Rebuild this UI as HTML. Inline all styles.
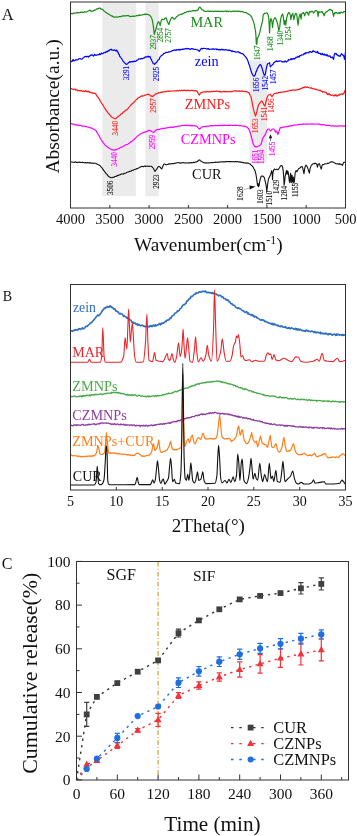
<!DOCTYPE html>
<html><head><meta charset="utf-8"><style>
html,body{margin:0;padding:0;background:#fff;width:357px;height:836px;overflow:hidden}
svg{display:block;will-change:transform}
text{font-family:"Liberation Serif",serif}
</style></head><body>
<svg width="357" height="836" viewBox="0 0 357 836">
<rect x="102.3" y="2.5" width="33.6" height="193.7" fill="#ebebeb"/>
<rect x="145.4" y="2.5" width="13.2" height="193.7" fill="#ebebeb"/>
<rect x="249.5" y="60.5" width="17.5" height="101.7" fill="#ebebeb"/>
<polyline points="70.8,13.8 71.4,13.4 72.1,13.8 72.7,13.7 73.3,13.2 74.0,13.3 74.6,13.1 75.2,13.2 75.9,13.2 76.5,12.6 77.1,12.4 77.8,12.9 78.4,12.6 79.0,12.5 79.7,12.7 80.3,12.1 81.0,12.3 81.6,12.5 82.3,12.1 82.9,12.5 83.6,12.5 84.2,11.8 84.9,11.7 85.5,12.0 86.2,12.2 86.8,11.8 87.5,11.5 88.2,11.0 88.8,10.8 89.5,10.2 90.2,10.4 91.0,11.4 91.6,11.2 92.2,11.2 92.8,11.1 93.4,10.6 94.0,10.4 94.6,10.1 95.2,10.1 95.8,9.8 96.4,9.3 97.0,8.8 97.6,9.0 98.2,8.4 98.8,8.3 99.4,8.1 100.0,8.0 100.7,8.8 101.3,9.1 101.9,9.2 102.6,9.4 103.3,10.0 103.9,10.9 104.6,11.4 105.3,11.8 105.9,12.6 106.5,12.6 107.2,13.4 107.8,13.7 108.4,13.8 109.0,14.4 109.7,15.0 110.3,15.1 110.9,15.7 111.5,15.8 112.1,16.3 112.7,16.2 113.3,16.7 113.9,17.2 114.5,17.1 115.1,17.0 115.7,16.8 116.3,17.1 116.9,17.1 117.5,17.0 118.1,16.8 118.7,16.8 119.3,16.7 120.0,16.6 120.6,16.7 121.2,16.4 121.9,16.2 122.5,16.2 123.2,15.8 123.8,16.0 124.5,15.6 125.1,15.9 125.8,16.0 126.4,15.7 127.1,15.6 127.8,15.6 128.6,15.7 129.3,16.2 130.0,16.3 130.6,16.6 131.2,16.5 131.9,16.3 132.5,16.5 133.1,16.0 133.8,16.1 134.4,16.4 135.0,16.0 135.6,16.0 136.2,15.8 136.9,15.6 137.5,15.6 138.1,15.8 138.8,15.0 139.4,15.4 140.0,15.1 140.6,15.2 141.2,15.2 141.8,15.0 142.4,14.9 143.0,14.6 143.6,14.5 144.2,14.4 144.8,14.0 145.4,14.6 146.0,14.3 146.7,14.4 147.4,14.2 148.2,14.6 148.9,14.8 149.6,15.2 150.2,15.8 150.9,16.8 151.7,18.2 152.4,20.7 153.4,26.6 154.3,34.4 154.8,32.5 155.8,29.5 156.8,25.6 157.8,22.6 158.7,21.7 159.7,24.1 160.2,25.6 160.7,22.6 161.4,20.3 162.2,19.2 162.9,19.5 163.6,19.7 164.3,19.2 165.1,18.2 166.1,17.7 167.1,20.7 168.1,23.1 169.0,24.6 169.5,22.2 170.5,19.7 171.5,17.7 172.5,17.3 173.5,18.7 174.4,19.2 175.2,18.6 175.9,17.7 176.7,16.6 177.4,16.3 178.0,15.5 178.7,15.0 179.3,14.8 180.2,14.6 181.0,14.3 181.7,14.3 182.3,13.9 183.0,13.6 183.7,13.3 184.3,12.6 185.0,12.5 185.6,12.6 186.2,12.3 186.8,11.7 187.4,11.5 188.0,11.4 188.6,11.8 189.2,11.3 189.8,11.1 190.4,11.3 191.0,11.3 191.7,11.0 192.3,10.7 192.9,10.7 193.6,10.9 194.2,10.6 194.8,10.6 195.5,10.9 196.1,10.6 196.7,10.3 197.4,10.3 198.0,10.1 198.8,8.2 199.7,7.1 200.4,7.6 201.1,8.7 201.8,9.6 202.4,9.8 203.0,10.1 203.7,11.0 204.3,11.1 204.9,11.0 205.5,11.3 206.1,11.4 206.8,11.5 207.4,11.0 208.0,11.0 208.7,11.1 209.3,11.5 209.9,11.1 210.6,11.4 211.2,11.4 211.8,11.3 212.4,11.1 213.1,11.6 213.7,11.5 214.3,11.3 215.0,11.1 215.6,11.3 216.2,11.4 216.8,11.2 217.4,11.4 218.0,11.2 218.6,11.4 219.2,11.0 219.8,11.2 220.4,11.6 221.0,11.6 221.6,11.2 222.2,11.6 222.8,11.2 223.4,11.6 224.0,11.5 224.6,11.2 225.2,11.1 225.8,11.0 226.4,11.6 227.0,11.0 227.6,11.5 228.2,11.6 228.8,11.3 229.4,11.1 230.0,11.3 230.6,11.6 231.2,11.6 231.9,11.4 232.5,11.3 233.1,11.2 233.8,11.2 234.4,11.1 235.0,11.4 235.6,11.3 236.2,11.1 236.9,11.1 237.5,11.5 238.1,11.2 238.8,11.4 239.4,11.3 240.0,11.4 240.6,11.7 241.2,11.8 241.9,11.3 242.5,11.6 243.1,11.8 243.8,12.5 244.4,12.5 245.0,12.5 245.7,12.6 246.4,12.7 247.0,13.3 247.7,13.7 248.4,13.8 249.0,14.5 249.7,14.5 250.3,15.5 250.9,15.9 251.8,17.4 252.6,19.2 253.4,21.4 254.2,24.3 254.8,27.4 255.5,31.0 255.9,35.2 256.3,43.6 256.8,44.5 257.4,37.7 258.4,36.9 259.0,35.0 259.7,32.7 260.4,30.0 261.0,26.8 261.8,23.9 262.6,20.9 263.1,15.6 264.0,13.8 264.8,13.4 265.6,13.3 266.5,12.8 267.4,13.2 268.2,15.1 268.9,19.6 269.6,33.0 270.1,21.8 271.0,18.4 271.9,21.8 272.6,27.4 273.2,20.7 274.3,18.4 275.4,17.9 276.0,19.1 276.6,20.7 277.7,24.0 278.8,30.8 279.7,27.4 280.5,19.6 281.6,15.6 282.7,14.0 283.5,18.4 284.2,24.6 285.0,20.7 285.8,25.2 286.6,18.4 287.8,14.0 288.9,12.3 290.0,14.0 290.9,19.6 291.7,15.1 292.8,13.4 293.9,19.6 294.5,16.2 295.6,13.4 296.7,14.0 297.6,21.8 298.1,25.2 298.8,18.4 299.5,15.4 300.1,14.0 301.1,19.1 301.6,13.8 302.5,13.3 303.4,12.4 304.0,13.9 304.7,15.8 305.4,13.1 306.1,12.4 306.7,12.1 307.4,12.4 308.0,14.3 308.7,15.1 309.4,11.7 310.1,11.7 310.8,12.1 311.4,11.9 312.1,11.3 312.8,11.6 313.4,13.1 314.1,12.3 314.8,11.3 315.5,10.7 316.1,10.6 316.8,10.8 317.5,11.7 318.1,16.4 318.8,11.7 319.5,12.3 320.1,12.2 320.8,12.2 321.5,11.7 322.2,11.7 322.8,12.9 323.5,13.8 324.2,15.8 324.9,13.1 325.6,12.9 326.2,11.9 326.9,11.7 327.6,11.3 328.2,10.3 328.9,10.4 329.6,9.4 330.2,9.4 330.9,9.7 331.6,10.5 332.3,10.4 333.0,13.7 333.6,16.4 334.3,13.1 335.0,13.3 335.6,12.4 336.3,12.6 336.9,12.9 337.6,13.5 338.3,13.4 339.0,12.4 339.6,13.3 340.3,13.1 341.0,12.0 341.7,12.4 342.4,12.8 343.0,12.7 343.7,11.5 344.4,11.7 345.4,11.7" fill="none" stroke="#1a8c1a" stroke-width="1.2" stroke-linejoin="round"/>
<polyline points="70.8,61.0 71.4,61.7 72.1,61.5 72.7,59.8 73.3,59.7 74.0,60.9 74.6,60.6 75.2,60.3 75.9,59.6 76.5,59.9 77.1,59.8 77.8,59.6 78.4,59.3 79.0,58.5 79.7,58.8 80.3,58.6 81.0,59.0 81.6,59.3 82.3,59.0 82.9,58.0 83.6,57.7 84.2,57.1 84.9,56.5 85.5,56.3 86.2,56.9 86.8,56.8 87.4,56.3 88.0,56.3 88.6,57.0 89.2,56.2 89.8,56.2 90.4,55.4 91.0,54.9 91.6,55.3 92.2,54.8 92.8,55.4 93.4,56.1 94.0,55.4 94.6,54.4 95.2,54.8 95.8,55.4 96.4,55.1 97.0,54.9 97.6,55.0 98.2,54.7 98.9,54.6 99.5,53.7 100.1,54.7 100.7,54.5 101.3,53.0 101.9,53.4 102.5,53.7 103.2,53.4 103.8,52.7 104.5,52.6 105.1,52.2 105.7,52.7 106.4,51.7 107.0,51.4 107.6,51.7 108.2,50.4 108.8,51.0 109.4,50.6 110.0,49.5 110.6,49.4 111.2,49.2 111.8,50.1 112.5,50.2 113.1,50.2 113.7,50.4 114.3,49.9 115.0,50.1 115.6,50.8 116.2,50.4 116.8,50.0 117.4,52.0 118.0,51.8 118.6,54.1 119.2,54.3 119.8,56.6 120.4,56.8 121.1,58.0 121.8,58.9 122.4,60.0 123.1,61.1 123.8,61.8 124.4,62.7 125.0,63.3 125.7,63.8 126.3,64.4 127.0,64.1 127.7,63.7 128.4,62.7 129.1,62.5 129.7,61.6 130.4,62.1 131.0,61.8 131.7,61.5 132.4,61.9 133.1,61.2 133.7,61.7 134.4,61.1 135.1,61.5 135.8,61.5 136.4,60.6 137.1,60.0 137.7,60.0 138.4,59.3 139.0,58.7 139.7,59.0 140.3,59.2 140.9,58.5 141.6,58.3 142.2,58.9 142.9,58.3 143.5,58.2 144.2,58.2 144.8,57.2 145.5,57.1 146.1,56.7 146.8,56.8 147.5,56.9 148.1,56.2 148.8,57.0 149.4,56.5 150.0,56.5 150.7,58.5 151.3,59.3 151.9,61.0 152.5,61.8 153.2,63.5 153.8,63.7 154.4,64.4 155.2,63.5 156.1,62.7 156.7,62.2 157.3,61.2 158.0,60.1 158.6,59.8 159.2,59.4 159.8,57.5 160.5,56.3 161.1,56.0 161.8,55.2 162.5,54.9 163.1,54.5 163.8,53.4 164.5,53.4 165.2,52.9 165.9,52.3 166.6,52.4 167.3,52.5 168.0,52.3 168.7,51.8 169.3,52.0 169.9,51.7 170.5,51.6 171.1,51.3 171.7,50.9 172.4,50.5 173.0,50.7 173.6,50.3 174.2,49.9 174.8,50.1 175.4,50.1 176.0,50.4 176.7,49.6 177.3,50.0 178.0,49.7 178.6,49.8 179.2,49.3 179.9,50.1 180.5,49.4 181.2,49.7 181.8,49.4 182.4,49.0 183.1,49.5 183.7,49.0 184.4,48.8 185.0,49.2 185.7,48.6 186.4,48.6 187.0,48.4 187.7,48.9 188.4,48.7 189.0,48.7 189.6,49.2 190.2,49.2 190.8,49.3 191.4,48.6 192.0,48.8 192.6,48.7 193.2,49.1 193.8,49.2 194.4,49.5 195.0,49.5 195.6,49.2 196.2,49.5 196.8,49.7 197.4,50.1 198.1,50.1 198.7,50.7 199.3,51.4 200.2,50.0 201.0,48.7 201.6,48.3 202.3,48.9 202.9,48.5 203.5,48.3 204.2,48.4 204.8,48.5 205.4,48.5 206.0,48.8 206.7,48.8 207.3,48.7 207.9,49.0 208.6,48.6 209.2,49.4 209.8,49.5 210.4,49.3 211.1,49.0 211.7,49.1 212.3,49.2 213.0,48.7 213.6,49.2 214.2,49.1 214.8,49.3 215.4,49.0 216.1,48.9 216.7,49.7 217.3,49.2 217.9,49.4 218.5,49.9 219.1,49.6 219.7,49.3 220.3,50.0 221.0,49.5 221.6,49.2 222.2,49.9 222.8,49.3 223.4,49.6 224.0,50.2 224.6,50.0 225.3,49.4 225.9,49.9 226.5,49.9 227.1,50.1 227.7,50.2 228.3,50.0 228.9,50.5 229.5,50.1 230.1,50.4 230.7,50.7 231.4,51.4 232.0,50.7 232.6,51.5 233.2,51.1 233.8,51.6 234.4,51.6 235.0,51.8 235.6,51.9 236.2,52.2 236.9,52.0 237.5,51.8 238.1,51.9 238.8,51.9 239.4,52.8 240.0,52.6 240.7,53.0 241.4,53.6 242.1,53.7 242.8,53.5 243.5,54.7 244.2,55.1 244.9,56.1 245.6,56.9 246.2,57.7 246.9,58.7 247.6,60.2 248.2,61.7 248.8,64.0 249.5,65.5 250.1,67.7 250.7,69.6 251.3,71.5 252.0,73.7 252.6,74.5 253.4,75.9 254.3,76.1 255.2,74.9 256.0,71.9 256.6,70.9 257.2,69.0 257.9,67.7 258.5,66.9 259.4,65.3 260.2,64.4 261.0,65.3 261.9,67.7 262.8,70.7 263.6,73.6 264.2,74.9 264.9,75.3 265.5,73.4 266.1,69.4 267.0,65.8 267.8,63.5 268.6,63.2 269.5,62.7 270.3,66.9 271.1,65.9 272.0,65.2 272.7,64.3 273.3,64.1 274.0,62.5 274.6,62.1 275.3,61.8 276.0,61.1 276.7,60.9 277.3,61.6 278.0,61.5 278.7,61.0 279.3,61.2 279.9,60.8 280.6,61.0 281.2,61.1 281.8,61.7 282.4,61.9 283.1,61.7 283.7,61.8 284.4,61.8 285.1,60.9 285.7,61.5 286.4,62.0 287.1,61.0 287.8,61.2 288.5,59.6 289.1,60.0 289.8,60.0 290.5,59.3 291.1,58.7 291.7,59.6 292.4,58.7 293.0,58.9 293.6,58.3 294.2,59.2 294.8,58.6 295.5,58.1 296.1,57.2 296.7,57.6 297.3,57.3 298.0,56.2 298.6,56.9 299.2,57.1 299.9,55.5 300.5,55.7 301.1,55.3 301.8,54.8 302.4,55.0 303.0,55.0 303.6,54.2 304.3,53.5 304.9,54.1 305.5,52.7 306.2,53.2 306.8,52.6 307.4,52.7 308.1,52.8 308.7,52.8 309.3,51.5 310.0,52.1 310.6,51.6 311.2,52.0 311.9,52.4 312.5,51.7 313.1,50.6 313.8,51.3 314.4,51.4 315.1,51.8 315.7,52.3 316.4,52.0 317.0,52.6 317.7,51.4 318.3,53.4 319.0,53.3 319.6,53.4 320.3,53.4 320.9,54.3 321.6,54.5 322.2,53.3 322.9,54.7 323.5,54.8 324.2,54.0 324.8,55.2 325.5,55.1 326.1,54.5 326.8,55.8 327.4,54.9 328.1,56.2 328.7,56.0 329.4,56.1 330.1,55.9 330.8,57.5 331.5,57.6 332.2,57.0 332.9,58.2 333.6,59.4 334.2,55.0 334.9,53.3 335.5,53.8 336.2,53.4 336.9,54.9 337.6,54.9 338.2,56.0 338.9,55.7 339.6,56.0 340.2,56.4 340.9,54.6 341.5,53.7 342.1,54.3 342.7,55.1 343.4,55.1 344.0,57.0 344.6,59.3 345.5,51.8" fill="none" stroke="#0000ff" stroke-width="1.2" stroke-linejoin="round"/>
<polyline points="70.8,88.7 71.4,88.5 72.1,89.0 72.7,89.0 73.3,89.4 74.0,89.6 74.6,89.1 75.2,89.2 75.9,90.3 76.5,89.8 77.1,89.9 77.8,90.9 78.4,90.4 79.0,90.5 79.7,91.0 80.3,90.6 81.0,90.9 81.6,90.4 82.3,91.0 82.9,91.4 83.6,91.0 84.2,91.3 84.9,91.3 85.5,90.7 86.2,91.6 86.8,91.4 87.4,91.6 88.0,91.4 88.7,91.2 89.3,92.4 89.9,92.1 90.5,92.5 91.2,92.9 91.8,92.6 92.5,93.0 93.2,93.4 93.8,92.9 94.5,93.5 95.2,93.4 95.9,93.9 96.6,95.4 97.2,96.5 97.9,96.8 98.6,98.4 99.3,99.0 99.9,100.1 100.6,101.8 101.2,102.4 101.9,103.5 102.6,104.7 103.3,105.6 104.0,107.0 104.7,108.0 105.4,109.1 106.1,110.2 106.8,111.2 107.5,112.1 108.1,113.1 108.8,113.8 109.5,114.4 110.2,115.5 110.9,116.2 111.5,117.0 112.2,117.4 112.9,117.8 113.7,118.1 114.5,118.6 115.1,118.8 115.7,118.6 116.3,118.2 116.9,117.5 117.5,117.2 118.1,116.3 118.7,116.1 119.3,115.9 120.0,115.2 120.6,114.5 121.2,113.8 121.9,113.8 122.5,113.3 123.2,112.1 123.8,111.9 124.4,111.6 125.0,110.9 125.6,110.3 126.2,109.9 126.8,109.8 127.4,109.3 128.0,108.5 128.7,107.4 129.3,106.9 130.0,106.0 130.6,105.0 131.3,104.8 131.9,103.9 132.6,103.6 133.2,103.1 133.8,102.2 134.5,101.9 135.1,101.0 135.7,100.3 136.3,99.5 137.0,99.3 137.6,98.3 138.2,97.9 138.8,97.5 139.5,97.2 140.1,96.8 140.7,96.3 141.4,95.9 142.0,96.3 142.6,95.7 143.3,96.0 143.9,95.7 144.6,95.2 145.2,95.1 145.9,94.9 146.5,94.7 147.2,94.5 147.8,94.3 148.5,94.2 149.1,94.5 149.8,95.0 150.4,95.8 151.0,95.9 151.8,96.2 152.7,96.4 153.3,96.1 154.0,95.6 154.7,94.5 155.3,94.2 155.9,93.8 156.6,94.0 157.2,93.5 157.8,93.3 158.4,92.7 159.1,92.8 159.7,92.8 160.3,92.6 160.9,92.1 161.5,92.4 162.1,92.3 162.7,91.8 163.3,92.0 164.0,91.8 164.6,91.8 165.2,91.5 165.8,91.7 166.4,91.6 167.0,91.4 167.6,91.0 168.2,91.0 168.8,91.4 169.4,91.5 170.0,91.0 170.6,91.1 171.2,91.2 171.8,91.0 172.4,91.0 173.0,90.9 173.6,90.9 174.2,91.0 174.8,90.8 175.4,90.9 176.0,90.8 176.7,91.0 177.3,90.4 178.0,90.8 178.6,90.9 179.2,90.5 179.9,90.4 180.5,90.8 181.2,90.3 181.8,90.3 182.4,90.4 183.1,90.6 183.7,90.1 184.4,90.3 185.0,90.4 185.6,90.3 186.2,90.6 186.9,90.4 187.5,90.7 188.1,90.2 188.7,90.3 189.3,90.6 190.0,90.7 190.6,90.5 191.2,90.3 191.8,90.3 192.5,90.6 193.1,90.4 193.7,90.9 194.3,90.9 194.9,90.5 195.6,90.6 196.2,91.1 196.8,90.9 197.4,91.7 198.1,93.2 198.7,94.3 199.3,95.1 200.2,93.6 201.0,92.6 201.6,92.3 202.3,92.5 202.9,92.1 203.5,92.0 204.2,91.9 204.8,91.9 205.4,91.8 206.0,92.1 206.7,91.5 207.3,91.3 207.9,91.9 208.6,91.8 209.2,91.8 209.8,91.4 210.4,91.8 211.1,91.7 211.7,91.2 212.3,91.6 213.0,91.6 213.6,91.4 214.2,91.5 214.8,91.4 215.4,91.3 216.0,91.3 216.6,91.2 217.2,91.1 217.8,91.5 218.4,91.3 219.0,91.7 219.6,91.2 220.2,91.8 220.8,91.7 221.4,91.8 222.0,91.8 222.6,91.8 223.2,91.6 223.8,91.3 224.4,91.8 225.0,91.4 225.6,91.5 226.2,91.8 226.8,91.7 227.4,91.6 228.0,92.0 228.6,91.8 229.2,91.6 229.8,91.5 230.4,91.7 231.1,91.9 231.7,91.5 232.4,91.6 233.0,91.1 233.7,90.8 234.3,91.0 235.0,90.9 235.6,91.1 236.2,90.7 236.8,91.1 237.4,91.2 238.0,91.2 238.6,91.2 239.2,90.7 239.8,91.2 240.4,91.4 241.0,90.9 241.6,91.1 242.2,91.1 242.8,91.4 243.4,91.4 244.0,91.4 244.7,91.5 245.3,91.8 245.9,91.4 246.5,91.6 247.2,91.9 247.8,92.1 248.4,92.6 249.1,92.8 249.7,94.3 250.3,95.5 251.0,96.8 251.8,100.3 252.6,105.2 253.4,109.2 254.3,112.7 255.5,116.1 256.1,114.4 256.8,111.9 257.6,108.1 258.5,105.2 259.4,103.6 260.2,102.6 261.0,101.7 261.9,101.0 262.8,102.4 263.6,104.3 264.2,105.3 264.9,106.0 265.5,103.8 266.1,101.0 267.0,97.8 267.8,95.9 268.4,95.0 269.1,94.7 269.7,94.5 270.3,94.2 271.1,95.4 272.0,96.8 272.9,95.3 273.7,94.2 274.3,93.6 274.9,93.5 275.6,93.4 276.2,93.3 276.8,92.9 277.4,93.1 278.1,92.8 278.7,92.6 279.3,92.4 279.9,92.3 280.5,92.3 281.1,92.4 281.7,92.1 282.4,92.2 283.0,92.0 283.6,91.8 284.2,91.9 284.8,91.9 285.4,91.7 286.1,91.3 286.7,91.3 287.4,91.1 288.0,91.2 288.7,91.0 289.3,90.4 290.0,90.4 290.6,90.6 291.3,90.4 291.9,90.0 292.6,90.1 293.2,89.8 293.9,90.2 294.5,90.1 295.2,90.2 295.8,90.1 296.5,89.9 297.1,89.9 297.8,89.7 298.4,89.6 299.0,89.2 299.7,89.3 300.3,88.7 300.9,88.5 301.6,88.7 302.2,87.9 302.8,87.6 303.5,87.4 304.1,87.7 304.7,87.0 305.4,86.8 306.0,87.1 306.6,87.4 307.2,86.9 307.9,87.5 308.5,87.5 309.1,87.7 309.8,88.0 310.4,87.9 311.0,88.2 311.6,87.9 312.2,88.6 312.9,88.5 313.5,88.7 314.1,89.0 314.8,88.8 315.4,89.4 316.1,89.7 316.7,89.3 317.4,89.7 318.0,90.0 318.7,90.4 319.3,90.2 320.0,90.4 320.6,90.4 321.3,91.3 321.9,91.3 322.5,92.0 323.1,91.5 323.7,91.7 324.3,92.1 324.9,92.2 325.5,92.6 326.1,92.2 326.7,93.3 327.3,94.5 327.9,93.7 328.5,94.5 329.1,93.6 329.7,94.8 330.3,94.6 330.9,95.3 331.6,95.3 332.2,95.1 332.9,95.2 333.5,95.6 334.1,96.2 334.8,94.8 335.4,95.5 336.0,94.7 336.6,95.9 337.3,96.1 337.9,95.2 338.5,94.9 339.1,95.3 339.8,94.1 340.4,94.6 341.1,94.0 341.8,93.8 342.4,94.4 343.1,93.7 343.8,93.8 344.6,91.3 345.3,90.0" fill="none" stroke="#ff1a1a" stroke-width="1.2" stroke-linejoin="round"/>
<polyline points="70.8,123.7 71.4,123.7 72.1,123.8 72.7,124.1 73.3,124.1 74.0,124.2 74.6,124.5 75.2,124.9 75.9,124.9 76.5,125.1 77.1,124.9 77.8,125.2 78.4,125.3 79.0,125.3 79.7,125.4 80.3,125.4 81.0,125.6 81.6,126.0 82.3,126.1 82.9,126.2 83.6,126.3 84.2,126.1 84.9,126.2 85.5,126.5 86.2,126.7 86.8,126.7 87.4,127.0 88.0,127.2 88.6,127.0 89.2,127.4 89.8,127.6 90.5,127.8 91.1,127.8 91.7,128.2 92.3,128.3 92.9,128.9 93.5,129.0 94.3,129.6 95.2,130.0 95.9,130.7 96.6,131.5 97.2,132.9 97.9,133.9 98.6,135.0 99.3,136.3 99.9,137.6 100.6,138.6 101.2,139.8 101.9,140.9 102.6,142.0 103.3,142.8 104.0,143.6 104.7,144.5 105.4,145.5 106.1,146.0 106.7,146.3 107.3,146.7 107.9,147.5 108.5,147.7 109.1,148.2 109.7,148.5 110.3,148.8 110.9,149.0 111.5,149.7 112.2,149.6 112.8,149.9 113.4,150.0 114.0,150.2 114.7,150.2 115.3,149.9 116.0,149.7 116.7,149.6 117.4,149.0 118.0,148.8 118.7,148.5 119.3,148.4 120.0,147.7 120.6,147.4 121.2,147.2 121.9,147.1 122.5,146.7 123.2,146.2 123.8,146.0 124.4,145.6 125.0,145.2 125.7,145.0 126.3,144.5 126.9,144.5 127.5,144.3 128.1,144.0 128.8,143.5 129.4,143.2 130.0,142.6 130.6,141.9 131.3,141.6 131.9,141.4 132.6,140.7 133.2,140.0 133.8,139.7 134.5,139.0 135.1,138.4 135.7,138.0 136.3,137.2 137.0,136.6 137.6,136.1 138.2,135.4 138.8,135.0 139.5,134.8 140.1,134.2 140.7,133.8 141.4,133.3 142.0,133.0 142.6,132.8 143.3,132.8 143.9,132.4 144.6,132.1 145.2,132.0 145.8,131.6 146.4,131.8 147.1,131.2 147.7,130.9 148.3,130.6 148.9,130.4 149.6,130.4 150.2,130.5 151.1,131.1 151.9,131.7 152.8,132.0 153.6,132.5 154.2,131.9 154.8,131.4 155.5,130.4 156.1,130.0 156.7,130.0 157.3,129.4 157.9,129.5 158.5,129.5 159.1,129.2 159.7,129.4 160.3,129.0 160.9,128.9 161.5,128.6 162.1,128.6 162.7,128.3 163.3,128.4 164.0,128.2 164.6,128.5 165.2,128.3 165.8,128.1 166.4,127.8 167.0,127.9 167.6,127.7 168.2,127.6 168.8,127.5 169.4,127.4 170.0,127.6 170.6,127.2 171.2,127.1 171.8,127.4 172.4,127.2 173.0,127.3 173.6,126.9 174.2,127.1 174.8,126.9 175.4,126.7 176.0,126.7 176.7,126.6 177.3,126.4 178.0,126.1 178.6,126.0 179.2,126.2 179.9,126.1 180.5,126.0 181.2,125.6 181.8,125.6 182.4,125.6 183.1,125.5 183.7,125.5 184.4,125.3 185.0,125.3 185.6,125.4 186.2,125.4 186.9,125.2 187.5,125.5 188.1,125.6 188.7,125.2 189.3,125.6 190.0,125.7 190.6,125.6 191.2,125.3 191.8,125.8 192.5,125.4 193.1,125.9 193.7,125.8 194.3,125.6 194.9,125.7 195.6,126.1 196.2,126.1 196.8,126.2 197.4,126.8 198.1,127.9 198.7,128.4 199.3,129.0 199.9,128.5 200.6,128.3 201.2,127.2 201.8,127.0 202.4,127.0 203.0,126.5 203.7,126.8 204.3,126.7 204.9,126.6 205.5,126.3 206.1,126.4 206.8,126.0 207.4,126.2 208.0,126.0 208.6,126.2 209.3,126.1 209.9,125.9 210.5,125.9 211.1,125.6 211.7,125.6 212.4,125.8 213.0,125.7 213.6,125.7 214.2,125.9 214.8,125.7 215.4,125.4 216.0,125.5 216.6,125.7 217.2,125.6 217.8,125.3 218.4,125.7 219.0,125.7 219.6,125.3 220.2,125.5 220.8,125.4 221.4,125.6 222.0,125.3 222.6,125.3 223.2,125.4 223.8,125.6 224.4,125.2 225.0,125.2 225.6,125.4 226.2,125.5 226.8,125.3 227.4,125.3 228.0,125.5 228.6,125.4 229.2,125.1 229.8,125.5 230.4,125.3 231.1,125.2 231.7,125.2 232.4,125.5 233.0,125.3 233.7,125.5 234.3,125.2 235.0,125.4 235.6,125.6 236.3,125.3 236.9,125.3 237.5,125.5 238.2,125.5 238.8,125.6 239.4,125.8 240.1,125.8 240.7,125.5 241.3,125.7 241.9,125.9 242.6,126.0 243.2,126.2 243.8,126.2 244.5,126.1 245.1,126.4 245.8,126.5 246.4,127.1 247.1,127.2 247.7,127.9 248.4,128.4 249.1,129.7 249.7,131.1 250.3,133.1 251.0,135.1 251.8,138.5 252.6,141.8 253.4,144.3 254.3,146.0 255.2,146.8 256.0,146.9 256.6,146.8 257.2,146.8 257.9,146.2 258.5,146.0 259.4,145.9 260.2,145.2 261.0,144.3 261.9,141.8 262.2,139.6 263.0,137.8 263.7,136.8 264.5,135.7 265.4,133.9 266.2,132.3 267.0,130.4 267.8,129.0 269.0,129.0 269.6,129.9 270.3,131.0 271.1,130.4 271.8,129.5 272.6,129.0 273.4,129.0 274.0,129.2 274.6,130.1 275.7,132.3 276.8,131.2 277.9,134.6 279.0,131.2 280.2,127.8 280.9,127.4 281.7,127.6 282.4,127.3 283.1,127.0 283.8,127.2 284.4,126.9 285.1,126.8 285.8,126.7 286.5,126.5 287.1,126.6 287.8,126.2 288.4,126.3 289.1,126.2 289.8,126.3 290.5,125.8 291.1,125.9 291.8,125.6 292.5,125.6 293.1,125.4 293.8,125.0 294.4,124.9 295.0,125.0 295.6,125.1 296.2,125.0 296.9,124.9 297.5,124.8 298.1,124.8 298.8,124.3 299.4,124.4 300.0,124.3 300.6,124.3 301.2,124.4 301.9,124.3 302.5,124.3 303.1,123.9 303.8,124.1 304.4,124.1 305.0,124.0 305.6,124.1 306.2,124.1 306.9,124.2 307.5,123.9 308.1,124.2 308.8,124.0 309.4,124.0 310.0,124.2 310.6,124.1 311.2,123.9 311.9,123.9 312.5,123.9 313.1,124.1 313.8,124.2 314.4,124.2 315.0,124.0 315.6,124.0 316.2,124.0 316.9,124.2 317.5,124.0 318.1,124.1 318.8,124.0 319.4,124.1 320.0,124.4 320.6,124.6 321.2,124.6 321.9,124.6 322.5,124.9 323.1,124.8 323.8,124.7 324.4,124.7 325.0,125.0 325.6,125.3 326.2,125.4 326.9,125.4 327.5,125.3 328.1,125.3 328.8,125.3 329.4,125.4 330.0,125.5 330.6,125.9 331.2,126.0 331.9,126.0 332.5,125.7 333.1,125.8 333.8,125.9 334.4,126.2 335.0,126.0 335.6,125.8 336.2,126.1 336.8,126.1 337.4,126.0 338.0,126.2 338.6,125.9 339.2,126.0 339.8,125.8 340.5,125.8 341.1,125.8 341.7,125.9 342.3,125.8 342.9,125.8 343.5,126.2 344.1,125.9 344.7,126.2 345.3,126.0" fill="none" stroke="#ff00ff" stroke-width="1.2" stroke-linejoin="round"/>
<polyline points="70.8,161.9 71.4,162.0 72.1,162.1 72.7,162.2 73.3,162.3 74.0,162.2 74.6,162.4 75.2,161.8 75.9,162.1 76.5,162.5 77.1,162.3 77.8,162.5 78.4,162.3 79.0,162.1 79.7,162.4 80.3,162.3 81.0,162.5 81.6,162.5 82.3,162.2 82.9,162.4 83.6,162.5 84.2,162.9 84.9,162.8 85.5,162.5 86.2,162.9 86.8,162.8 87.4,162.6 88.0,162.9 88.6,162.7 89.2,162.6 89.8,163.2 90.4,162.8 91.0,162.8 91.6,163.3 92.2,163.3 92.8,163.0 93.4,163.4 94.0,163.2 94.6,163.3 95.2,163.3 95.8,163.2 96.4,163.9 97.0,164.0 97.6,164.4 98.2,164.8 98.8,164.8 99.4,165.3 100.0,165.7 100.7,166.3 101.3,167.1 102.0,167.8 102.6,168.9 103.2,169.6 103.8,170.6 104.4,171.1 105.0,172.2 105.7,173.1 106.3,173.7 106.9,174.4 107.6,175.2 108.2,176.1 108.9,176.5 109.5,177.0 110.1,177.2 110.8,177.6 111.4,177.7 112.0,177.8 112.7,177.2 113.3,177.3 113.9,177.4 114.6,176.5 115.2,176.5 115.9,176.4 116.6,176.2 117.3,175.4 118.0,175.6 118.7,175.2 119.4,174.9 120.1,174.8 120.8,174.3 121.4,174.1 122.1,174.0 122.8,174.0 123.4,174.1 124.0,173.4 124.7,173.5 125.3,173.3 125.9,173.1 126.5,172.5 127.2,172.3 127.8,172.1 128.4,171.9 129.1,171.8 129.7,171.2 130.3,171.3 130.9,171.1 131.6,170.9 132.2,170.2 132.8,170.2 133.5,170.2 134.1,169.5 134.8,169.4 135.4,169.3 136.1,169.2 136.7,168.6 137.3,168.7 138.0,168.2 138.6,168.0 139.2,167.6 139.9,167.3 140.5,166.9 141.1,166.6 141.8,166.4 142.4,166.6 143.0,166.4 143.6,166.7 144.2,166.1 144.9,166.0 145.5,166.5 146.1,166.3 146.8,166.2 147.4,166.0 148.0,166.2 148.6,166.3 149.3,166.4 149.9,166.3 150.5,166.3 151.2,166.2 151.8,166.6 152.7,167.5 153.5,168.5 154.2,169.9 155.0,171.4 156.0,170.0 156.8,168.9 158.0,167.0 158.7,166.6 159.3,166.4 160.5,167.5 161.2,168.6 161.8,168.9 163.0,166.0 163.7,164.4 164.4,163.9 165.3,164.5 165.9,164.6 166.5,164.7 167.2,164.5 167.8,164.5 168.4,164.0 169.0,164.1 169.6,163.8 170.2,164.1 170.9,163.7 171.5,163.7 172.1,163.6 172.7,163.8 173.3,163.6 173.9,163.6 174.5,163.2 175.1,163.1 175.8,163.2 176.4,163.0 177.0,162.8 177.6,162.8 178.2,162.6 178.8,162.8 179.4,162.7 180.1,163.1 180.7,163.1 181.4,162.9 182.0,162.8 182.6,162.7 183.3,162.6 183.9,162.7 184.6,163.0 185.2,163.0 185.8,162.7 186.5,163.0 187.1,163.0 187.8,162.9 188.4,162.8 189.0,162.9 189.6,162.9 190.2,162.7 190.8,162.9 191.4,162.6 192.0,162.6 192.6,162.7 193.2,162.6 193.8,162.3 194.4,162.6 195.0,162.3 195.6,162.2 196.2,161.7 196.8,161.9 197.4,161.5 198.1,160.7 198.7,160.3 199.3,159.9 199.9,160.1 200.6,160.8 201.2,161.3 201.8,161.6 202.5,162.1 203.2,162.2 203.8,162.6 204.5,162.9 205.2,162.8 205.8,163.0 206.4,162.7 207.0,163.0 207.6,163.0 208.2,162.8 208.8,163.0 209.4,163.0 210.0,162.7 210.6,162.6 211.2,162.4 211.8,162.7 212.4,162.7 213.0,162.4 213.6,162.5 214.2,162.5 214.8,162.4 215.4,162.1 216.0,162.4 216.6,162.2 217.2,162.2 217.8,162.0 218.4,162.1 219.0,162.2 219.6,162.1 220.2,162.1 220.8,161.7 221.4,161.7 222.0,161.9 222.6,161.9 223.2,162.0 223.9,161.7 224.5,162.0 225.1,161.9 225.7,161.5 226.3,161.8 227.0,161.6 227.6,161.5 228.2,161.5 228.8,161.6 229.4,161.6 230.0,161.6 230.7,161.5 231.3,161.7 231.9,161.6 232.5,161.8 233.1,161.8 233.8,161.5 234.4,161.9 235.0,161.7 235.6,161.4 236.2,161.7 236.8,161.6 237.4,161.8 238.0,161.6 238.6,162.1 239.2,161.9 239.8,161.8 240.4,162.2 241.0,162.0 241.6,162.4 242.2,162.3 242.8,162.6 243.4,162.6 244.1,163.0 244.7,163.0 245.4,162.8 246.0,163.1 246.7,163.1 247.4,163.1 248.0,163.1 248.7,163.5 249.3,163.7 250.0,163.9 250.6,164.5 251.2,165.2 251.9,165.7 252.5,166.4 253.2,167.2 253.9,168.7 254.6,169.8 255.2,171.3 255.9,174.0 256.7,179.0 257.1,182.4 257.6,185.7 258.0,183.2 258.4,186.6 259.1,185.7 259.7,181.5 260.5,178.2 261.1,176.5 261.8,176.1 263.0,176.1 263.6,176.6 264.3,177.7 265.5,182.4 266.4,187.4 266.8,191.6 267.2,188.3 267.8,183.2 268.5,179.0 269.3,177.3 270.2,175.6 271.0,173.1 271.7,170.6 272.3,174.8 272.5,179.8 272.9,173.1 273.5,170.6 274.4,168.9 275.0,169.4 275.6,169.8 276.2,169.3 276.9,169.3 277.5,169.6 278.2,169.8 279.3,168.0 280.5,165.9 281.1,165.8 281.8,165.5 282.6,167.1 283.2,170.9 283.7,176.8 284.1,185.2 284.6,181.8 285.1,176.8 286.0,172.6 286.4,170.5 287.1,174.3 287.7,170.9 288.3,172.6 288.8,176.8 289.3,181.0 289.8,182.7 290.2,176.8 290.6,173.4 291.0,180.0 291.3,182.7 291.6,177.0 291.9,175.1 292.3,176.8 292.6,182.0 293.0,181.8 293.3,177.0 293.5,179.3 293.8,183.0 294.0,182.7 294.4,181.0 294.8,176.8 295.2,172.6 296.1,170.5 296.9,171.8 297.5,170.5 298.6,168.8 299.8,168.0 300.5,167.3 301.3,166.7 302.0,166.4 302.7,167.9 303.4,171.1 304.0,173.8 304.7,168.4 305.4,166.0 306.0,165.1 306.7,166.0 307.4,167.1 308.0,168.9 308.7,171.1 309.4,173.1 310.1,168.4 310.8,166.6 311.4,165.1 312.1,164.7 312.7,164.0 313.4,163.7 314.1,163.4 314.8,163.6 315.5,163.3 316.1,163.6 316.8,164.4 317.5,167.1 318.1,164.4 318.8,163.8 319.5,163.7 320.2,166.4 321.2,169.1 322.2,165.1 322.9,164.5 323.5,164.6 324.2,164.1 324.9,164.0 325.5,163.8 326.2,163.8 326.9,163.7 327.6,163.3 328.2,163.4 328.9,163.1 329.6,162.7 330.2,162.1 330.9,162.0 331.6,161.7 332.3,162.0 332.9,161.8 333.6,162.4 334.3,162.7 335.0,163.0 335.6,163.7 336.3,163.7 337.0,164.0 337.6,163.8 338.3,163.9 339.0,164.1 339.7,163.9 340.3,164.4 341.0,164.1 341.6,164.7 342.3,165.5 343.0,164.1 343.7,162.4 344.4,162.2 345.1,162.1" fill="none" stroke="#111" stroke-width="1.1" stroke-linejoin="round"/>
<rect x="70.5" y="2" width="275" height="206" fill="none" stroke="#333" stroke-width="1"/>
<line x1="70.5" y1="208" x2="70.5" y2="205" stroke="#333" stroke-width="1"/>
<text x="70.5" y="223.5" font-size="14.5" text-anchor="middle" fill="#111">4000</text>
<line x1="109.8" y1="208" x2="109.8" y2="205" stroke="#333" stroke-width="1"/>
<text x="109.8" y="223.5" font-size="14.5" text-anchor="middle" fill="#111">3500</text>
<line x1="149.1" y1="208" x2="149.1" y2="205" stroke="#333" stroke-width="1"/>
<text x="149.1" y="223.5" font-size="14.5" text-anchor="middle" fill="#111">3000</text>
<line x1="188.4" y1="208" x2="188.4" y2="205" stroke="#333" stroke-width="1"/>
<text x="188.4" y="223.5" font-size="14.5" text-anchor="middle" fill="#111">2500</text>
<line x1="227.6" y1="208" x2="227.6" y2="205" stroke="#333" stroke-width="1"/>
<text x="227.6" y="223.5" font-size="14.5" text-anchor="middle" fill="#111">2000</text>
<line x1="266.9" y1="208" x2="266.9" y2="205" stroke="#333" stroke-width="1"/>
<text x="266.9" y="223.5" font-size="14.5" text-anchor="middle" fill="#111">1500</text>
<line x1="306.2" y1="208" x2="306.2" y2="205" stroke="#333" stroke-width="1"/>
<text x="306.2" y="223.5" font-size="14.5" text-anchor="middle" fill="#111">1000</text>
<line x1="345.5" y1="208" x2="345.5" y2="205" stroke="#333" stroke-width="1"/>
<text x="345.5" y="223.5" font-size="14.5" text-anchor="middle" fill="#111">500</text>
<text x="134" y="251" font-size="19.3" fill="#111">Wavenumber(cm<tspan font-size="12" dy="-7">-1</tspan><tspan dy="7">)</tspan></text>
<text transform="translate(58.9,173.6) rotate(-90)" font-size="19.5" fill="#111">Absorbance(a.u.)</text>
<text x="1.8" y="20" font-size="16.5" fill="#111">A</text>
<text x="190.4" y="27.2" font-size="14.3" fill="#1a8c1a">MAR</text>
<text x="194.8" y="66.4" font-size="14.3" fill="#0000ff">zein</text>
<text x="184.7" y="109.4" font-size="14.3" fill="#ff1a1a">ZMNPs</text>
<text x="180.8" y="144" font-size="14.3" fill="#ff00ff">CZMNPs</text>
<text x="192.1" y="178.7" font-size="14.3" fill="#111">CUR</text>
<text transform="translate(156.29999999999998,49.6) rotate(-90)" font-size="7.2" fill="#1a8c1a" stroke="#1a8c1a" stroke-width="0.12">2937</text>
<text transform="translate(162.7,42.3) rotate(-90)" font-size="7.2" fill="#1a8c1a" stroke="#1a8c1a" stroke-width="0.12">2854</text>
<text transform="translate(171.0,42.7) rotate(-90)" font-size="7.2" fill="#1a8c1a" stroke="#1a8c1a" stroke-width="0.12">2757</text>
<text transform="translate(259.8,60.1) rotate(-90)" font-size="7.2" fill="#1a8c1a" stroke="#1a8c1a" stroke-width="0.12">1647</text>
<text transform="translate(272.7,50.9) rotate(-90)" font-size="7.2" fill="#1a8c1a" stroke="#1a8c1a" stroke-width="0.12">1468</text>
<text transform="translate(282.5,45.2) rotate(-90)" font-size="7.2" fill="#1a8c1a" stroke="#1a8c1a" stroke-width="0.12">1340</text>
<text transform="translate(290.59999999999997,40.8) rotate(-90)" font-size="7.2" fill="#1a8c1a" stroke="#1a8c1a" stroke-width="0.12">1254</text>
<text transform="translate(128.89999999999998,80.3) rotate(-90)" font-size="7.2" fill="#0000ff" stroke="#0000ff" stroke-width="0.12">3291</text>
<text transform="translate(159.2,81.2) rotate(-90)" font-size="7.2" fill="#0000ff" stroke="#0000ff" stroke-width="0.12">2925</text>
<text transform="translate(259.09999999999997,92.1) rotate(-90)" font-size="7.2" fill="#0000ff" stroke="#0000ff" stroke-width="0.12">1656</text>
<text transform="translate(267.5,90.4) rotate(-90)" font-size="7.2" fill="#0000ff" stroke="#0000ff" stroke-width="0.12">1542</text>
<text transform="translate(275.9,84) rotate(-90)" font-size="7.2" fill="#0000ff" stroke="#0000ff" stroke-width="0.12">1457</text>
<text transform="translate(117.5,135.4) rotate(-90)" font-size="7.2" fill="#ff1a1a" stroke="#ff1a1a" stroke-width="0.12">3440</text>
<text transform="translate(156.29999999999998,112.7) rotate(-90)" font-size="7.2" fill="#ff1a1a" stroke="#ff1a1a" stroke-width="0.12">2957</text>
<text transform="translate(258.2,132.9) rotate(-90)" font-size="7.2" fill="#ff1a1a" stroke="#ff1a1a" stroke-width="0.12">1653</text>
<text transform="translate(267.0,121.1) rotate(-90)" font-size="7.2" fill="#ff1a1a" stroke="#ff1a1a" stroke-width="0.12">1541</text>
<text transform="translate(273.7,112.7) rotate(-90)" font-size="7.2" fill="#ff1a1a" stroke="#ff1a1a" stroke-width="0.12">1456</text>
<text transform="translate(116.9,166.6) rotate(-90)" font-size="7.2" fill="#ff00ff" stroke="#ff00ff" stroke-width="0.12">3440</text>
<text transform="translate(155.0,149.3) rotate(-90)" font-size="7.2" fill="#ff00ff" stroke="#ff00ff" stroke-width="0.12">2959</text>
<text transform="translate(257.9,164) rotate(-90)" font-size="7.2" fill="#ff00ff" stroke="#ff00ff" stroke-width="0.12">1651</text>
<text transform="translate(264.09999999999997,164) rotate(-90)" font-size="7.2" fill="#ff00ff" stroke="#ff00ff" stroke-width="0.12">1594</text>
<text transform="translate(274.7,156.1) rotate(-90)" font-size="7.2" fill="#ff00ff" stroke="#ff00ff" stroke-width="0.12">1455</text>
<text transform="translate(113.10000000000001,195) rotate(-90)" font-size="7.2" fill="#111" stroke="#111" stroke-width="0.12">3506</text>
<text transform="translate(158.7,188.8) rotate(-90)" font-size="7.2" fill="#111" stroke="#111" stroke-width="0.12">2923</text>
<text transform="translate(242.79999999999998,200.7) rotate(-90)" font-size="7.2" fill="#111" stroke="#111" stroke-width="0.12">1628</text>
<text transform="translate(262.9,203.7) rotate(-90)" font-size="7.2" fill="#111" stroke="#111" stroke-width="0.12">1603</text>
<text transform="translate(272.0,205.4) rotate(-90)" font-size="7.2" fill="#111" stroke="#111" stroke-width="0.12">1510</text>
<text transform="translate(278.7,194) rotate(-90)" font-size="7.2" fill="#111" stroke="#111" stroke-width="0.12">1429</text>
<text transform="translate(286.5,200.4) rotate(-90)" font-size="7.2" fill="#111" stroke="#111" stroke-width="0.12">1284</text>
<text transform="translate(298.09999999999997,197) rotate(-90)" font-size="7.2" fill="#111" stroke="#111" stroke-width="0.12">1155</text>
<line x1="243.7" y1="189.6" x2="250" y2="188" stroke="#999" stroke-width="0.7"/>
<polygon points="255.5,186.4 249.4,185.6 249.9,189.6" fill="#111"/>
<polygon points="270.5,134.3 268.8,138.3 272.2,138.3" fill="#111"/>
<line x1="270.5" y1="138" x2="270.5" y2="141" stroke="#111" stroke-width="0.6"/>
<polyline points="70.8,331.0 71.4,330.8 72.0,330.8 72.7,331.3 73.3,330.5 73.9,330.4 74.5,330.4 75.2,329.6 75.8,330.0 76.5,329.9 77.1,329.9 77.8,330.1 78.4,328.8 79.1,329.0 79.7,328.5 80.4,329.5 81.0,329.2 81.7,328.7 82.4,327.8 83.0,329.0 83.7,328.8 84.3,328.0 85.0,327.7 85.6,326.6 86.3,326.1 86.9,326.5 87.6,326.1 88.3,324.9 88.9,324.6 89.6,324.1 90.2,323.1 90.9,323.1 91.5,322.3 92.2,322.2 92.8,321.0 93.5,320.2 94.2,319.6 94.9,318.5 95.6,317.8 96.3,316.7 97.0,316.0 97.7,315.0 98.4,315.7 99.2,315.2 99.9,314.5 100.6,313.3 101.2,312.9 101.8,311.5 102.4,310.5 103.0,310.2 103.6,309.1 104.2,308.1 104.9,308.6 105.5,307.7 106.1,307.2 106.8,307.5 107.4,306.5 108.0,306.6 108.6,307.3 109.2,307.2 109.9,305.8 110.5,306.6 111.1,306.3 111.8,307.7 112.4,307.4 113.0,307.9 113.6,309.1 114.3,308.8 114.9,308.8 115.5,310.4 116.1,311.2 116.8,311.0 117.4,311.9 118.0,311.7 118.6,312.5 119.3,313.9 119.9,314.0 120.5,313.3 121.1,313.9 121.8,314.0 122.4,314.3 123.0,315.4 123.6,316.3 124.2,315.6 124.9,316.6 125.5,316.8 126.1,316.8 126.7,318.1 127.4,317.5 128.0,318.7 128.6,318.9 129.2,318.7 129.8,319.7 130.5,319.9 131.1,320.5 131.7,322.1 132.3,322.4 133.0,322.0 133.6,323.4 134.2,323.1 134.8,322.9 135.4,323.5 136.1,324.5 136.7,324.4 137.3,323.8 137.9,325.4 138.6,324.4 139.2,324.6 139.8,325.2 140.4,325.8 141.1,325.3 141.7,325.4 142.4,325.3 143.0,325.5 143.6,326.4 144.3,326.0 144.9,326.7 145.6,326.4 146.2,326.6 146.8,326.5 147.4,327.3 148.1,326.5 148.7,326.5 149.3,326.9 149.9,325.7 150.6,325.5 151.2,326.6 151.8,325.9 152.4,326.3 153.0,325.3 153.7,325.1 154.3,325.9 154.9,326.1 155.5,324.8 156.2,325.9 156.8,325.6 157.4,324.9 158.0,324.9 158.6,324.5 159.3,323.8 159.9,323.5 160.5,324.8 161.1,323.4 161.8,323.9 162.4,323.0 163.0,323.1 163.6,323.3 164.2,322.6 164.9,321.8 165.5,321.2 166.1,321.7 166.7,320.2 167.4,320.1 168.0,320.1 168.6,319.6 169.2,319.7 169.8,318.8 170.5,317.8 171.1,318.2 171.7,316.5 172.3,315.7 173.0,315.5 173.6,315.2 174.2,314.7 174.8,313.4 175.4,313.0 176.1,312.7 176.7,312.4 177.3,311.0 177.9,310.8 178.6,311.0 179.2,310.5 179.8,309.1 180.4,308.7 181.1,308.1 181.7,307.3 182.3,306.0 182.9,305.2 183.6,304.5 184.2,304.6 184.8,304.6 185.4,303.5 186.1,303.2 186.7,301.0 187.3,301.2 187.9,300.3 188.6,300.0 189.2,298.6 189.8,298.3 190.4,298.5 191.0,296.4 191.7,296.5 192.3,296.2 192.9,295.9 193.5,295.1 194.2,294.5 194.8,294.2 195.4,293.4 196.0,293.8 196.6,292.6 197.2,292.9 197.9,293.0 198.5,292.7 199.1,291.8 199.7,291.8 200.4,292.1 201.1,292.1 201.7,291.5 202.4,291.3 203.0,291.5 203.6,291.2 204.3,291.6 204.9,291.7 205.5,291.0 206.1,292.0 206.8,292.7 207.4,292.7 208.0,292.2 208.6,292.7 209.2,292.3 209.9,293.0 210.5,292.8 211.1,292.8 211.7,293.5 212.4,292.5 213.0,293.7 213.6,293.5 214.2,292.9 214.8,294.0 215.5,294.0 216.1,293.9 216.7,294.8 217.3,294.7 218.0,295.2 218.6,295.9 219.2,295.5 219.8,295.4 220.4,295.3 221.1,296.1 221.7,297.0 222.3,296.6 222.9,296.9 223.6,298.5 224.2,298.5 224.8,298.6 225.5,298.9 226.1,300.0 226.8,299.5 227.4,300.4 228.1,300.1 228.7,300.9 229.3,302.0 230.0,302.0 230.7,303.3 231.4,303.9 232.0,303.8 232.7,304.8 233.4,305.2 234.0,305.3 234.6,305.5 235.2,306.4 235.8,307.3 236.4,307.7 237.0,307.8 237.6,308.5 238.2,307.8 238.8,307.9 239.4,308.7 240.0,308.7 240.6,308.9 241.2,309.5 241.8,310.0 242.4,310.6 243.1,310.7 243.7,310.8 244.4,312.0 245.0,312.5 245.7,312.1 246.3,311.8 247.0,312.1 247.6,313.8 248.3,312.8 248.9,314.2 249.6,314.3 250.2,314.5 250.8,314.5 251.4,315.6 252.0,314.6 252.6,315.1 253.2,315.9 253.8,315.5 254.4,317.1 255.0,316.4 255.6,316.5 256.2,316.7 256.8,317.9 257.4,317.9 258.0,318.4 258.6,318.5 259.2,319.0 259.9,319.6 260.5,320.1 261.2,320.0 261.8,319.5 262.5,320.3 263.1,320.1 263.8,320.1 264.4,321.1 265.1,321.8 265.7,321.2 266.4,321.6 267.0,322.2 267.6,322.2 268.3,323.0 268.9,322.9 269.6,323.2 270.2,323.7 270.9,323.3 271.5,324.1 272.2,324.5 272.8,323.3 273.5,324.9 274.1,324.7 274.8,323.9 275.4,324.7 276.0,324.8 276.6,325.2 277.2,325.8 277.8,325.1 278.4,325.6 279.0,326.2 279.6,326.2 280.2,326.6 280.8,326.0 281.4,326.4 282.0,325.9 282.6,326.8 283.2,327.1 283.8,327.0 284.4,327.2 285.0,327.0 285.6,326.7 286.2,327.9 286.8,328.2 287.5,328.3 288.1,327.7 288.7,328.2 289.3,327.6 289.9,328.7 290.5,328.7 291.2,328.0 291.8,327.7 292.4,328.4 293.0,328.6 293.6,328.8 294.2,329.3 294.9,328.9 295.5,328.3 296.1,329.7 296.8,328.6 297.4,329.9 298.0,329.0 298.6,329.3 299.2,330.2 299.9,329.2 300.5,329.4 301.1,330.0 301.8,330.5 302.4,330.8 303.0,330.3 303.6,330.7 304.2,331.2 304.9,330.5 305.5,331.4 306.1,330.1 306.8,330.3 307.4,330.9 308.0,330.6 308.6,331.4 309.2,331.3 309.9,331.2 310.5,331.8 311.1,331.4 311.8,331.1 312.4,331.3 313.0,331.6 313.6,332.2 314.2,332.4 314.8,331.4 315.4,332.6 316.0,332.9 316.6,332.3 317.2,332.5 317.8,332.0 318.4,332.6 319.0,332.7 319.6,333.0 320.2,332.2 320.8,333.8 321.4,333.1 322.0,333.2 322.6,333.1 323.2,333.9 323.9,333.6 324.5,333.5 325.1,333.9 325.8,333.0 326.4,333.9 327.0,333.7 327.6,334.7 328.2,334.7 328.9,333.7 329.5,334.1 330.1,333.6 330.8,334.2 331.4,334.8 332.0,334.4 332.6,335.1 333.2,334.5 333.9,334.3 334.5,334.1 335.1,334.8 335.7,335.4 336.3,334.1 337.0,335.2 337.6,334.1 338.2,334.4 338.8,334.5 339.4,335.2 340.0,334.7 340.7,334.8 341.3,335.2 341.9,334.5 342.5,335.5 343.1,334.6 343.8,335.2 344.4,334.9 345.0,335.3" fill="none" stroke="#2f6fbf" stroke-width="1.6" stroke-linejoin="round"/>
<path d="M70.80,362.30C76.40,362.30 82.00,362.30 87.60,362.30C88.27,362.30 88.93,359.30 89.60,359.30C90.10,359.30 90.60,362.30 91.10,362.30C94.20,362.30 97.30,362.30 100.40,362.30C100.83,362.30 101.27,359.82 101.70,356.40C102.07,353.51 102.43,327.50 102.80,327.50C103.23,327.50 103.67,352.94 104.10,356.40C104.50,359.59 104.90,362.30 105.30,362.30C110.37,362.30 115.43,362.30 120.50,362.30C121.57,362.30 122.63,360.04 123.70,356.00C124.17,354.23 124.63,337.80 125.10,337.80C125.43,337.80 125.77,342.81 126.10,344.80C126.37,346.39 126.63,349.00 126.90,349.00C127.23,349.00 127.57,332.99 127.90,325.20C128.13,319.75 128.37,309.10 128.60,309.10C128.83,309.10 129.07,317.90 129.30,322.40C129.63,328.83 129.97,342.00 130.30,342.00C130.67,342.00 131.03,334.01 131.40,330.80C131.73,327.88 132.07,323.10 132.40,323.10C132.77,323.10 133.13,333.72 133.50,339.20C133.87,344.68 134.23,353.71 134.60,356.00C135.17,359.53 135.73,362.30 136.30,362.30C138.63,362.30 140.97,362.24 143.30,362.00C144.03,361.92 144.77,351.43 145.50,342.00C145.97,336.00 146.43,314.00 146.90,314.00C147.23,314.00 147.57,335.04 147.90,342.00C148.27,349.66 148.63,359.86 149.00,360.20C150.17,361.29 151.33,361.60 152.50,361.60C153.20,361.60 153.90,352.50 154.60,352.50C155.07,352.50 155.53,359.97 156.00,360.20C158.33,361.34 160.67,361.60 163.00,361.60C164.00,361.60 165.00,357.31 166.00,355.50C166.40,354.78 166.80,353.50 167.20,353.50C167.60,353.50 168.00,358.92 168.40,359.40C168.90,360.00 169.40,360.40 169.90,360.40C170.63,360.40 171.37,353.50 172.10,353.50C172.50,353.50 172.90,358.24 173.30,359.40C173.80,360.84 174.30,362.40 174.80,362.40C175.47,362.40 176.13,358.69 176.80,355.50C177.37,352.79 177.93,342.70 178.50,342.70C179.07,342.70 179.63,356.50 180.20,356.50C180.70,356.50 181.20,353.22 181.70,349.60C182.00,347.43 182.30,341.40 182.60,336.90C182.77,334.40 182.93,329.00 183.10,329.00C183.43,329.00 183.77,342.00 184.10,346.70C184.43,351.40 184.77,358.40 185.10,358.40C185.60,358.40 186.10,350.02 186.60,345.70C186.90,343.11 187.20,337.80 187.50,337.80C187.83,337.80 188.17,342.73 188.50,345.70C189.00,350.16 189.50,360.98 190.00,361.40C190.83,362.10 191.67,362.40 192.50,362.40C193.13,362.40 193.77,354.90 194.40,349.60C194.80,346.25 195.20,336.90 195.60,336.90C195.93,336.90 196.27,346.45 196.60,349.60C197.17,354.95 197.73,361.90 198.30,361.90C199.20,361.90 200.10,357.80 201.00,357.80C201.70,357.80 202.40,361.30 203.10,361.30C204.03,361.30 204.97,358.37 205.90,355.00C206.37,353.31 206.83,345.20 207.30,345.20C207.77,345.20 208.23,353.31 208.70,355.00C209.63,358.37 210.57,361.30 211.50,361.30C212.20,361.30 212.90,344.38 213.60,327.00C213.90,319.55 214.20,289.90 214.50,289.90C214.90,289.90 215.30,316.03 215.70,327.00C216.17,339.80 216.63,361.30 217.10,361.30C218.27,361.30 219.43,357.03 220.60,352.20C221.17,349.85 221.73,338.90 222.30,338.90C222.90,338.90 223.50,348.90 224.10,352.20C224.80,356.05 225.50,361.30 226.20,361.30C227.47,361.30 228.73,361.30 230.00,361.30C230.70,361.30 231.40,358.24 232.10,355.50C232.63,353.41 233.17,347.03 233.70,345.40C234.27,343.67 234.83,343.77 235.40,342.00C235.73,340.96 236.07,336.10 236.40,336.10C236.80,336.10 237.20,337.80 237.60,337.80C237.87,337.80 238.13,334.50 238.40,334.50C238.87,334.50 239.33,339.81 239.80,343.70C240.20,347.03 240.60,357.10 241.00,357.10C241.53,357.10 242.07,355.50 242.60,355.50C243.17,355.50 243.73,359.36 244.30,359.70C245.13,360.20 245.97,360.50 246.80,360.50C247.67,360.50 248.53,359.70 249.40,359.70C250.23,359.70 251.07,361.80 251.90,361.80C253.03,361.80 254.17,360.20 255.30,360.20C256.40,360.20 257.50,361.30 258.60,361.30C260.57,361.30 262.53,361.30 264.50,361.30C265.07,361.30 265.63,356.70 266.20,355.50C266.77,354.30 267.33,352.90 267.90,352.90C268.43,352.90 268.97,354.60 269.50,354.60C269.90,354.60 270.30,353.80 270.70,353.80C271.17,353.80 271.63,359.70 272.10,359.70C272.77,359.70 273.43,354.60 274.10,354.60C274.67,354.60 275.23,359.30 275.80,359.70C276.80,360.40 277.80,360.80 278.80,360.80C280.50,360.80 282.20,358.20 283.90,358.20C285.20,358.20 286.50,359.66 287.80,360.20C289.13,360.76 290.47,361.60 291.80,361.60C293.10,361.60 294.40,356.90 295.70,356.90C296.67,356.90 297.63,357.04 298.60,357.30C299.27,357.48 299.93,360.92 300.60,361.20C302.23,361.88 303.87,362.20 305.50,362.20C308.10,362.20 310.70,361.77 313.30,361.20C314.63,360.91 315.97,359.20 317.30,359.20C317.93,359.20 318.57,361.20 319.20,361.20C320.20,361.20 321.20,353.30 322.20,353.30C322.83,353.30 323.47,359.86 324.10,360.20C325.40,360.89 326.70,361.04 328.00,361.20C329.63,361.41 331.27,361.60 332.90,361.60C334.37,361.60 335.83,358.20 337.30,358.20C338.13,358.20 338.97,361.60 339.80,361.60C340.77,361.60 341.73,361.40 342.70,361.20C343.57,361.02 344.43,360.53 345.30,360.20" fill="none" stroke="#e8262b" stroke-width="1.1" stroke-linejoin="round"/>
<polyline points="70.8,396.5 71.4,396.5 72.1,396.7 72.7,396.7 73.3,396.1 74.0,395.9 74.6,396.3 75.3,396.2 75.9,396.9 76.5,396.7 77.2,396.6 77.8,396.5 78.4,396.6 79.0,396.7 79.6,396.0 80.2,396.3 80.9,395.9 81.5,396.8 82.1,395.7 82.7,396.5 83.3,395.5 83.9,396.2 84.5,395.7 85.1,395.7 85.8,396.1 86.4,395.1 87.0,395.0 87.6,395.5 88.2,395.9 88.8,395.4 89.4,394.8 90.0,395.8 90.7,395.7 91.3,394.7 91.9,395.0 92.5,394.6 93.1,394.7 93.7,395.0 94.3,394.4 95.0,395.0 95.6,394.1 96.2,394.2 96.8,394.9 97.4,394.5 98.0,394.3 98.6,394.3 99.2,394.4 99.9,394.2 100.5,394.1 101.1,393.6 101.7,394.3 102.3,394.6 102.9,394.5 103.5,394.1 104.1,393.7 104.8,393.6 105.4,393.9 106.0,393.8 106.6,393.1 107.2,393.5 107.9,393.1 108.5,393.2 109.2,393.2 109.8,393.5 110.5,393.0 111.1,392.3 111.8,393.2 112.4,392.6 113.0,392.6 113.7,392.2 114.3,392.4 115.0,392.5 115.6,392.4 116.2,392.9 116.8,392.2 117.4,392.8 118.0,392.5 118.6,393.2 119.3,392.6 119.9,393.0 120.5,393.2 121.1,393.7 121.7,393.1 122.3,393.7 122.9,393.9 123.6,393.7 124.2,393.9 124.8,394.2 125.5,394.9 126.2,394.4 126.8,395.1 127.4,394.3 128.1,395.3 128.8,394.7 129.4,394.6 130.0,395.3 130.7,395.1 131.3,395.6 131.9,394.6 132.5,394.9 133.1,395.6 133.7,395.1 134.3,395.0 135.0,394.7 135.6,394.8 136.2,395.5 136.8,396.0 137.4,396.1 138.0,395.5 138.6,395.6 139.2,395.1 139.9,395.5 140.5,396.2 141.1,396.4 141.7,396.2 142.3,395.8 142.9,396.3 143.6,396.3 144.2,396.5 144.8,396.4 145.4,396.1 146.0,396.9 146.6,396.9 147.2,396.0 147.9,396.1 148.5,396.8 149.1,396.0 149.7,396.8 150.3,396.3 150.9,396.5 151.5,396.4 152.2,395.8 152.8,395.9 153.4,395.8 154.0,396.3 154.6,396.0 155.2,396.2 155.8,395.5 156.4,396.3 157.1,395.7 157.7,395.4 158.3,395.5 158.9,396.0 159.5,395.4 160.1,395.4 160.7,395.6 161.3,395.6 161.9,395.2 162.6,394.7 163.2,394.7 163.8,395.0 164.4,394.4 165.0,394.6 165.6,394.3 166.2,393.8 166.8,393.7 167.5,394.1 168.1,393.7 168.7,392.9 169.3,393.6 169.9,393.7 170.5,393.4 171.1,393.4 171.8,393.2 172.4,392.6 173.0,392.8 173.6,392.1 174.2,392.1 174.8,391.4 175.4,391.6 176.0,391.3 176.6,391.9 177.3,391.4 177.9,391.0 178.5,390.9 179.1,390.1 179.7,390.4 180.3,390.4 180.9,389.8 181.6,389.4 182.2,389.4 182.8,389.1 183.4,389.3 184.0,388.9 184.6,388.3 185.2,388.0 185.8,388.1 186.4,388.3 187.1,388.2 187.7,387.9 188.3,388.0 188.9,387.1 189.5,386.5 190.1,386.8 190.7,386.6 191.4,386.0 192.0,386.4 192.6,385.8 193.2,385.5 193.8,385.6 194.4,385.2 195.0,385.7 195.7,384.3 196.3,384.5 196.9,384.2 197.5,383.9 198.1,384.0 198.8,383.5 199.4,384.2 200.0,383.5 200.6,383.4 201.2,383.4 201.8,382.7 202.4,382.9 203.0,383.0 203.6,383.1 204.2,382.3 204.8,382.4 205.4,382.8 206.0,382.3 206.6,382.6 207.2,381.8 207.8,382.1 208.4,382.3 209.0,381.8 209.6,382.0 210.2,381.9 210.8,382.3 211.4,381.7 212.0,381.6 212.6,381.8 213.2,381.4 213.8,381.8 214.4,381.3 215.0,381.5 215.6,381.3 216.2,381.2 216.8,381.0 217.4,381.1 218.0,381.4 218.6,381.5 219.2,381.2 219.8,381.0 220.4,382.0 221.0,381.4 221.6,382.3 222.2,382.1 222.8,381.9 223.4,382.6 224.0,382.3 224.6,382.9 225.2,382.4 225.8,382.3 226.4,383.1 227.0,383.5 227.6,383.4 228.2,383.8 228.8,383.5 229.4,384.0 230.0,384.0 230.6,383.9 231.2,384.3 231.8,384.5 232.4,384.7 233.0,384.9 233.6,385.6 234.2,385.1 234.8,385.3 235.4,385.6 236.0,386.7 236.6,386.4 237.2,386.1 237.8,386.8 238.4,387.4 239.0,387.7 239.7,387.8 240.3,387.5 240.9,388.2 241.5,387.9 242.1,387.9 242.7,389.0 243.4,389.2 244.0,388.6 244.6,389.6 245.2,388.8 245.8,389.4 246.4,389.2 247.1,389.6 247.7,389.8 248.3,390.4 248.9,390.9 249.5,390.5 250.2,390.6 250.8,390.8 251.4,391.1 252.0,392.0 252.6,391.8 253.2,391.4 253.9,392.3 254.5,392.3 255.1,392.3 255.7,392.6 256.3,392.9 256.9,393.3 257.6,393.1 258.2,393.4 258.8,393.4 259.4,393.5 260.0,393.9 260.7,393.8 261.3,394.0 261.9,394.3 262.5,394.7 263.1,394.3 263.7,395.3 264.4,394.9 265.0,395.5 265.6,395.5 266.2,395.9 266.8,395.7 267.4,395.6 268.1,395.7 268.7,396.0 269.3,396.0 269.9,396.4 270.6,396.6 271.2,395.8 271.8,395.8 272.4,396.0 273.1,396.0 273.7,396.1 274.3,396.1 274.9,396.4 275.6,396.3 276.2,397.1 276.8,397.1 277.4,397.6 278.1,397.6 278.7,397.4 279.3,397.7 279.9,396.7 280.6,397.0 281.2,397.4 281.8,398.0 282.4,397.5 283.1,397.3 283.7,398.0 284.3,397.7 284.9,397.9 285.6,397.7 286.2,397.7 286.8,397.6 287.4,398.3 288.0,398.8 288.7,398.9 289.3,398.7 289.9,399.0 290.5,398.3 291.2,398.3 291.8,399.1 292.4,398.7 293.0,398.9 293.6,399.0 294.3,398.3 294.9,398.6 295.5,399.0 296.1,399.3 296.8,399.5 297.4,399.4 298.0,399.0 298.6,399.1 299.2,399.7 299.9,399.9 300.5,399.3 301.1,399.0 301.7,399.6 302.4,399.5 303.0,399.4 303.6,399.6 304.2,399.3 304.8,399.6 305.5,399.9 306.1,399.4 306.7,399.9 307.3,400.5 308.0,400.3 308.6,399.7 309.2,400.0 309.8,399.6 310.4,400.5 311.1,400.4 311.7,399.9 312.3,400.4 312.9,400.5 313.6,400.5 314.2,400.3 314.8,400.5 315.4,400.3 316.0,400.4 316.7,401.2 317.3,400.5 317.9,400.7 318.5,400.7 319.2,400.4 319.8,400.7 320.4,400.5 321.0,400.7 321.6,400.8 322.3,400.8 322.9,401.6 323.5,400.8 324.1,400.9 324.8,401.3 325.4,401.0 326.0,401.2 326.6,401.2 327.3,401.4 327.9,400.8 328.5,401.5 329.1,400.9 329.8,401.1 330.4,401.7 331.0,402.0 331.6,401.6 332.3,401.0 332.9,401.4 333.5,401.2 334.2,401.9 334.8,401.2 335.4,401.2 336.0,401.7 336.7,401.7 337.3,401.6 337.9,401.7 338.5,401.6 339.1,402.2 339.7,401.6 340.3,402.2 340.9,401.6 341.5,401.7 342.1,401.6 342.7,402.0 343.3,402.1 343.9,401.5 344.5,401.8 345.1,401.8" fill="none" stroke="#4aaa48" stroke-width="1.3" stroke-linejoin="round"/>
<polyline points="70.8,425.5 71.4,425.2 72.0,425.7 72.6,425.6 73.2,425.8 73.8,425.0 74.4,425.0 75.0,424.9 75.6,425.0 76.2,425.6 76.8,424.8 77.4,425.3 78.0,424.9 78.6,424.9 79.2,425.1 79.8,425.1 80.5,425.5 81.1,425.1 81.8,424.4 82.4,424.6 83.0,424.4 83.7,425.3 84.3,425.1 85.0,425.1 85.6,425.0 86.3,424.9 86.9,425.1 87.6,424.5 88.2,424.8 88.8,424.1 89.4,424.8 90.0,424.3 90.7,424.6 91.3,424.4 91.9,424.2 92.5,424.1 93.1,424.1 93.7,423.9 94.3,423.7 95.0,424.5 95.6,424.4 96.2,424.6 96.8,424.2 97.4,423.9 98.0,423.9 98.7,424.1 99.3,423.2 99.9,423.8 100.5,423.4 101.2,423.0 101.8,422.9 102.4,423.2 103.0,422.9 103.7,423.1 104.3,423.1 104.9,423.2 105.5,423.0 106.2,422.8 106.8,423.3 107.4,423.1 108.0,423.2 108.6,423.2 109.2,423.5 109.9,423.3 110.5,424.0 111.1,423.9 111.7,424.5 112.3,423.9 113.0,424.3 113.6,424.6 114.2,423.5 114.8,423.7 115.4,424.5 116.1,424.6 116.7,424.4 117.3,423.8 117.9,424.1 118.6,424.7 119.2,424.8 119.8,424.7 120.4,424.0 121.0,424.8 121.7,424.3 122.3,424.7 122.9,424.5 123.5,424.1 124.2,425.2 124.8,424.8 125.5,425.0 126.1,424.4 126.8,425.0 127.4,425.0 128.1,425.0 128.7,424.8 129.4,425.3 130.0,425.1 130.6,425.0 131.2,425.0 131.8,424.9 132.4,425.6 133.1,424.9 133.7,425.1 134.3,425.0 134.9,425.8 135.5,425.7 136.1,425.8 136.7,425.2 137.4,425.7 138.0,425.7 138.6,425.4 139.2,425.3 139.8,425.9 140.4,426.5 141.0,425.4 141.6,425.6 142.2,425.6 142.9,426.0 143.5,425.3 144.1,425.8 144.7,425.6 145.3,426.1 145.9,425.1 146.5,425.5 147.2,425.6 147.8,426.2 148.4,425.6 149.0,425.5 149.6,425.5 150.2,425.7 150.8,425.2 151.4,424.8 152.1,425.3 152.7,425.8 153.3,425.5 153.9,424.8 154.5,425.3 155.1,425.4 155.7,424.6 156.3,425.0 156.9,424.6 157.6,424.4 158.2,424.4 158.8,424.2 159.4,424.5 160.0,424.2 160.6,423.8 161.2,424.2 161.8,423.7 162.5,424.4 163.1,424.2 163.7,423.4 164.3,424.2 164.9,423.4 165.5,423.7 166.1,423.7 166.8,423.3 167.4,423.2 168.0,423.2 168.6,422.8 169.2,423.1 169.8,423.4 170.4,422.4 171.0,423.1 171.6,422.2 172.3,422.2 172.9,422.2 173.5,421.6 174.1,421.5 174.7,421.6 175.3,421.6 175.9,421.9 176.6,421.9 177.2,420.6 177.8,421.0 178.4,420.3 179.0,420.6 179.6,420.8 180.2,420.0 180.8,420.5 181.4,419.9 182.1,419.2 182.7,418.9 183.3,419.0 183.9,419.5 184.5,418.5 185.1,418.7 185.7,418.4 186.4,418.1 187.0,418.5 187.6,417.6 188.2,418.0 188.8,417.6 189.4,417.6 190.0,417.8 190.7,417.1 191.3,417.4 191.9,416.7 192.5,416.7 193.1,416.6 193.8,416.7 194.4,416.6 195.0,416.0 195.6,415.4 196.2,415.3 196.8,415.6 197.4,415.8 198.0,415.3 198.6,414.9 199.2,415.6 199.9,414.7 200.5,414.3 201.1,414.1 201.7,414.0 202.3,414.7 202.9,413.8 203.5,414.5 204.1,414.1 204.7,414.4 205.3,414.5 205.9,414.2 206.5,413.6 207.1,413.7 207.7,413.9 208.3,413.6 209.0,413.0 209.6,413.5 210.2,412.6 210.8,412.8 211.4,413.6 212.0,412.9 212.6,412.6 213.2,412.9 213.8,413.2 214.4,412.9 215.0,412.3 215.6,412.4 216.2,412.7 216.8,412.9 217.4,413.6 218.1,412.9 218.7,413.6 219.3,413.7 219.9,413.2 220.5,414.0 221.1,413.8 221.7,413.5 222.3,413.6 222.9,413.4 223.5,413.7 224.1,414.3 224.7,413.9 225.3,413.6 225.9,413.9 226.5,414.1 227.2,413.9 227.8,414.4 228.4,413.9 229.0,414.9 229.6,414.3 230.2,414.3 230.8,415.0 231.4,415.0 232.0,414.9 232.6,415.7 233.2,415.4 233.8,415.6 234.4,416.1 235.0,415.5 235.6,416.3 236.3,416.3 236.9,416.2 237.5,417.0 238.1,416.0 238.7,417.2 239.3,416.5 239.9,417.5 240.5,417.2 241.1,416.9 241.7,416.9 242.3,417.6 242.9,418.2 243.5,417.5 244.1,417.9 244.7,418.2 245.4,417.9 246.0,418.3 246.6,417.8 247.2,418.4 247.8,418.9 248.4,418.6 249.0,418.5 249.6,419.0 250.2,418.6 250.8,419.5 251.4,419.3 252.0,420.0 252.7,419.9 253.3,419.3 253.9,420.4 254.5,420.6 255.1,420.6 255.7,420.7 256.3,420.7 256.9,420.9 257.6,421.0 258.2,421.0 258.8,420.8 259.4,420.8 260.0,421.4 260.7,421.9 261.3,421.9 262.0,421.5 262.7,422.4 263.3,422.6 264.0,422.6 264.6,422.7 265.2,423.2 265.8,423.4 266.4,423.0 267.0,423.6 267.7,423.3 268.3,423.5 268.9,423.5 269.5,424.2 270.1,423.7 270.7,424.4 271.3,423.8 271.9,424.3 272.5,424.7 273.1,424.5 273.7,424.2 274.3,423.9 275.0,424.5 275.6,424.5 276.2,425.0 276.8,425.1 277.4,425.4 278.0,424.9 278.6,424.9 279.2,424.9 279.8,425.2 280.4,425.5 281.0,424.8 281.7,425.0 282.3,425.0 282.9,425.2 283.5,425.3 284.1,426.1 284.7,425.3 285.3,426.2 285.9,425.5 286.5,425.5 287.1,426.5 287.7,425.4 288.3,425.5 289.0,425.6 289.6,425.6 290.2,426.0 290.8,425.9 291.4,425.8 292.0,426.3 292.6,425.8 293.2,426.6 293.8,425.9 294.5,426.2 295.1,426.6 295.7,427.0 296.3,426.8 296.9,426.9 297.5,426.9 298.1,427.1 298.7,427.2 299.4,426.4 300.0,426.3 300.6,427.1 301.2,427.0 301.8,427.0 302.4,427.4 303.0,426.7 303.7,427.4 304.3,427.1 304.9,427.1 305.5,426.9 306.1,427.0 306.7,427.4 307.3,427.4 307.9,427.8 308.6,427.1 309.2,427.7 309.8,427.0 310.4,427.5 311.0,427.7 311.6,427.2 312.2,428.0 312.9,428.2 313.5,427.4 314.1,428.1 314.7,427.4 315.3,427.5 315.9,427.3 316.6,427.8 317.2,427.4 317.8,428.2 318.4,428.0 319.0,427.9 319.6,428.3 320.3,427.7 320.9,427.9 321.5,427.9 322.1,427.5 322.7,428.6 323.3,427.7 324.0,427.7 324.6,428.6 325.2,428.7 325.8,428.3 326.4,428.3 327.0,428.3 327.7,427.9 328.3,427.8 328.9,428.5 329.5,428.1 330.1,428.1 330.8,429.0 331.4,427.9 332.0,428.4 332.6,428.9 333.2,428.9 333.9,428.1 334.5,428.9 335.1,428.7 335.7,428.8 336.3,429.2 336.9,429.1 337.6,428.9 338.2,429.1 338.8,428.8 339.4,428.9 340.0,429.2 340.7,429.0 341.3,428.7 341.9,428.3 342.5,429.3 343.1,428.7 343.8,428.9 344.4,428.7 345.0,429.0" fill="none" stroke="#8f3fa0" stroke-width="1.3" stroke-linejoin="round"/>
<polyline points="70.8,455.2 71.4,454.9 72.0,455.6 72.7,455.6 73.3,456.0 73.9,455.4 74.5,455.4 75.2,456.0 75.8,456.0 76.4,455.9 77.0,455.8 77.6,456.3 78.3,456.1 78.9,456.6 79.5,456.0 80.1,456.2 80.8,456.9 81.4,456.4 82.0,456.6 82.6,456.4 83.3,456.9 83.9,456.7 84.5,456.2 85.2,456.6 85.8,456.7 86.5,456.1 87.1,456.6 87.7,456.0 88.4,456.2 89.0,456.3 89.6,455.8 90.2,455.9 90.9,456.6 91.5,455.9 92.1,456.4 92.7,455.7 93.4,455.7 94.0,455.8 94.6,455.2 95.3,454.9 96.0,453.4 96.7,452.4 97.8,445.4 98.8,448.2 99.9,453.8 100.7,454.3 101.5,454.6 102.3,454.5 103.0,454.0 103.7,453.5 104.4,453.1 105.1,449.1 105.8,441.2 106.5,432.8 107.5,444.0 108.6,453.1 109.2,453.1 109.8,452.8 110.4,453.1 111.0,452.8 111.6,453.4 112.2,453.1 112.8,453.1 113.5,452.7 114.1,453.5 114.8,452.9 115.4,453.2 116.0,453.0 116.7,453.9 117.3,453.3 118.0,453.8 118.6,453.9 119.2,453.5 119.8,454.0 120.5,454.2 121.1,454.1 121.7,454.1 122.3,454.2 122.9,454.2 123.5,454.4 124.2,453.9 124.8,454.4 125.4,454.2 126.0,454.5 126.6,454.9 127.2,455.1 127.8,454.3 128.4,454.5 129.0,455.1 129.6,455.1 130.2,454.6 130.8,455.4 131.4,455.7 132.0,455.2 132.6,455.2 133.2,455.5 133.8,455.4 134.4,455.7 135.1,454.6 135.7,454.1 136.3,453.5 137.0,453.5 137.6,453.2 138.2,453.3 138.9,453.6 139.5,454.3 140.1,454.6 140.8,455.3 141.4,455.8 142.0,456.4 142.6,456.1 143.2,455.9 143.9,456.6 144.5,456.0 145.1,456.2 145.7,455.9 146.4,455.6 147.0,455.5 147.6,455.3 148.3,455.1 148.9,455.1 149.5,455.1 150.2,454.0 150.8,453.3 151.4,452.6 152.1,449.8 152.7,446.3 153.7,443.8 154.6,450.1 155.2,450.3 155.9,449.3 156.5,448.8 157.7,445.0 158.8,440.0 160.0,450.1 160.8,452.1 161.5,452.6 162.1,452.3 162.8,452.2 163.4,451.8 164.0,451.3 164.7,451.5 165.3,451.0 165.9,450.5 166.6,450.1 167.2,449.9 167.8,448.5 168.5,447.5 169.1,446.3 169.8,443.9 170.6,441.3 171.2,444.0 171.9,447.6 172.5,449.0 173.1,449.6 173.8,449.3 174.4,450.0 175.0,449.6 175.6,449.7 176.3,449.3 176.9,449.9 177.5,449.3 178.2,449.0 178.8,449.0 179.4,448.6 180.1,448.1 180.7,447.7 181.3,447.1 182.2,420.0 182.8,374.1 183.4,420.0 184.2,439.3 184.9,446.4 185.7,444.6 186.4,442.7 187.0,440.8 187.7,439.5 188.3,438.9 189.5,442.7 190.1,441.3 190.8,438.3 191.4,436.3 192.4,435.1 193.2,438.9 194.0,442.7 195.2,443.9 195.8,442.5 196.5,440.4 197.1,438.9 197.8,438.1 198.6,437.8 199.2,437.9 199.9,438.9 200.5,439.6 201.2,438.3 201.8,436.7 202.5,433.9 203.2,433.3 203.8,434.9 204.4,437.0 205.0,438.7 205.7,438.8 206.3,438.9 207.0,438.6 207.6,439.1 208.3,438.9 208.9,438.8 209.6,438.7 210.2,438.2 210.8,438.6 211.4,438.5 212.0,438.7 212.6,439.1 213.2,439.1 213.8,438.3 214.4,438.9 215.0,438.7 215.7,438.7 216.5,437.0 217.2,435.1 217.9,429.3 218.7,422.3 219.6,415.0 220.5,422.3 221.2,431.4 222.0,436.9 222.7,437.4 223.3,438.4 224.0,438.7 224.7,438.9 225.3,439.1 226.0,438.7 226.7,438.3 227.4,439.0 228.2,438.5 228.9,438.3 229.6,438.7 230.2,439.3 230.8,440.9 231.4,441.5 232.0,440.7 232.7,440.6 233.3,440.0 234.0,439.7 234.7,438.7 235.3,438.0 236.0,436.9 236.7,434.3 237.3,431.3 238.0,427.2 238.7,426.0 239.4,430.7 240.2,435.1 240.9,433.8 241.7,430.5 242.4,429.6 243.3,435.2 244.2,440.5 244.8,441.1 245.4,442.5 246.0,443.0 246.6,443.4 247.2,443.6 247.8,443.3 248.5,442.6 249.2,441.1 249.9,438.9 250.6,436.9 251.7,432.6 252.4,436.1 253.1,439.6 253.7,440.5 254.3,441.6 254.9,442.4 255.6,442.2 256.3,441.0 257.0,444.1 257.7,446.6 258.4,445.0 259.1,441.7 259.8,438.7 260.5,436.1 261.2,439.0 261.9,442.4 262.6,443.6 263.3,443.8 264.0,444.0 264.7,444.6 265.4,444.5 266.1,445.0 266.8,446.6 267.5,447.3 268.2,445.0 268.9,441.0 269.6,437.8 270.3,435.4 271.0,440.8 271.7,446.6 272.4,447.2 273.1,447.7 273.8,447.3 274.5,446.3 275.2,444.4 275.9,443.8 276.6,445.8 277.3,449.4 278.0,451.1 278.7,451.8 279.4,452.2 280.1,451.6 280.8,450.5 281.5,448.3 282.2,446.6 283.0,441.1 283.9,437.5 284.6,441.1 285.3,446.6 285.9,448.7 286.5,451.1 287.1,451.5 287.8,451.2 288.5,450.8 289.2,451.3 289.9,450.6 290.6,450.1 291.3,448.4 292.0,446.9 292.7,444.9 293.4,443.8 294.1,445.6 294.8,449.2 295.5,451.5 296.2,452.7 296.9,453.5 297.6,454.3 298.3,454.7 299.0,454.7 299.8,454.8 300.5,454.4 301.2,454.7 301.8,454.4 302.4,454.4 303.0,453.6 303.6,453.5 304.2,453.2 304.8,453.4 305.4,454.3 306.1,454.5 306.7,455.3 307.3,455.5 308.0,455.8 308.6,455.3 309.3,455.2 310.0,455.6 310.7,455.1 311.3,455.9 312.0,455.5 312.8,454.7 313.5,454.2 314.3,453.2 315.1,454.1 315.8,455.4 316.6,456.7 317.2,456.7 317.9,456.7 318.5,456.2 319.1,456.1 319.8,455.6 320.4,455.5 321.1,455.7 321.7,454.6 322.4,455.0 323.0,453.9 323.7,454.1 324.3,453.5 325.0,453.9 325.6,453.9 326.2,455.4 326.9,456.8 327.5,457.2 328.1,457.8 328.8,457.7 329.5,457.7 330.1,457.7 330.8,457.3 331.5,457.1 332.1,457.5 332.8,457.1 333.5,457.0 334.2,456.9 334.8,457.4 335.5,457.6 336.1,457.1 336.8,456.8 337.4,457.1 338.1,457.3 338.8,457.5 339.4,456.3 340.1,455.7 340.8,455.5 341.5,454.2 342.1,454.4 342.8,453.9 343.5,453.9 344.3,454.7 345.0,455.5" fill="none" stroke="#ff7f1a" stroke-width="1.2" stroke-linejoin="round"/>
<path d="M70.80,485.00C78.20,485.00 85.60,485.00 93.00,485.00C93.57,485.00 94.13,484.89 94.70,484.70C95.13,484.55 95.57,483.69 96.00,482.10C96.27,481.12 96.53,475.74 96.80,472.10C96.93,470.28 97.07,466.20 97.20,466.20C97.37,466.20 97.53,470.00 97.70,472.10C97.97,475.45 98.23,482.32 98.50,483.00C98.93,484.11 99.37,484.70 99.80,484.70C100.50,484.70 101.20,484.50 101.90,484.20C102.60,483.90 103.30,482.44 104.00,479.60C104.40,477.98 104.80,469.10 105.20,462.80C105.50,458.07 105.80,447.50 106.10,446.80C106.30,446.33 106.50,446.00 106.70,446.00C106.87,446.00 107.03,453.35 107.20,458.60C107.37,463.85 107.53,477.96 107.70,479.60C108.00,482.55 108.30,484.06 108.60,484.20C109.57,484.66 110.53,484.80 111.50,484.80C119.33,484.80 127.17,484.79 135.00,484.60C135.43,484.59 135.87,481.87 136.30,480.40C136.60,479.38 136.90,477.20 137.20,477.20C137.50,477.20 137.80,480.48 138.10,481.60C138.43,482.84 138.77,484.60 139.10,484.60C142.80,484.60 146.50,484.60 150.20,484.60C150.60,484.60 151.00,483.62 151.40,482.90C151.83,482.12 152.27,479.70 152.70,479.70C153.13,479.70 153.57,482.90 154.00,482.90C154.40,482.90 154.80,481.74 155.20,480.40C155.63,478.95 156.07,472.67 156.50,469.00C156.83,466.18 157.17,460.80 157.50,460.80C157.83,460.80 158.17,465.95 158.50,469.00C158.87,472.35 159.23,478.95 159.60,480.40C160.03,482.11 160.47,483.50 160.90,483.50C161.33,483.50 161.77,481.04 162.20,480.40C162.60,479.81 163.00,479.10 163.40,479.10C163.83,479.10 164.27,484.10 164.70,484.10C165.33,484.10 165.97,482.61 166.60,481.60C167.23,480.59 167.87,480.04 168.50,477.80C168.90,476.38 169.30,468.72 169.70,465.20C170.00,462.56 170.30,458.30 170.60,458.30C170.93,458.30 171.27,463.96 171.60,467.70C171.93,471.44 172.27,481.60 172.60,481.60C173.20,481.60 173.80,479.20 174.40,479.20C174.83,479.20 175.27,482.85 175.70,483.00C176.97,483.44 178.23,483.60 179.50,483.60C179.90,483.60 180.30,479.93 180.70,475.40C181.00,472.01 181.30,462.07 181.60,450.20C182.00,434.38 182.40,363.30 182.80,363.30C183.23,363.30 183.67,442.49 184.10,456.50C184.43,467.27 184.77,476.78 185.10,478.00C185.53,479.59 185.97,480.50 186.40,480.50C186.83,480.50 187.27,474.20 187.70,474.20C188.10,474.20 188.50,480.50 188.90,480.50C189.23,480.50 189.57,475.93 189.90,472.90C190.20,470.17 190.50,462.80 190.80,462.80C191.10,462.80 191.40,467.64 191.70,470.40C192.03,473.46 192.37,479.66 192.70,480.50C193.33,482.10 193.97,483.00 194.60,483.00C195.23,483.00 195.87,479.28 196.50,476.70C196.83,475.34 197.17,471.70 197.50,471.70C197.93,471.70 198.37,480.50 198.80,480.50C199.50,480.50 200.20,479.96 200.90,479.20C201.53,478.51 202.17,471.70 202.80,471.70C203.20,471.70 203.60,479.38 204.00,480.50C204.63,482.28 205.27,483.60 205.90,483.60C208.93,483.60 211.97,483.55 215.00,483.30C215.63,483.25 216.27,480.18 216.90,475.40C217.20,473.14 217.50,461.55 217.80,456.50C218.07,452.01 218.33,445.20 218.60,445.20C218.90,445.20 219.20,452.11 219.50,456.50C219.90,462.36 220.30,475.44 220.70,478.00C221.13,480.77 221.57,483.00 222.00,483.00C223.03,483.00 224.07,480.50 225.10,480.50C225.73,480.50 226.37,483.00 227.00,483.00C227.63,483.00 228.27,479.20 228.90,479.20C229.53,479.20 230.17,482.40 230.80,482.40C231.63,482.40 232.47,476.70 233.30,476.70C233.73,476.70 234.17,481.70 234.60,481.70C235.23,481.70 235.87,479.13 236.50,475.40C236.90,473.04 237.30,454.00 237.70,454.00C238.07,454.00 238.43,458.88 238.80,462.80C239.17,466.72 239.53,480.50 239.90,480.50C240.37,480.50 240.83,465.65 241.30,462.80C241.60,460.97 241.90,459.00 242.20,459.00C242.47,459.00 242.73,465.90 243.00,469.10C243.33,473.10 243.67,479.68 244.00,480.50C244.87,482.63 245.73,483.60 246.60,483.60C247.23,483.60 247.87,480.67 248.50,478.00C249.03,475.75 249.57,470.91 250.10,466.60C250.40,464.17 250.70,458.40 251.00,458.40C251.30,458.40 251.60,463.68 251.90,466.60C252.30,470.49 252.70,479.20 253.10,479.20C253.70,479.20 254.30,473.20 254.90,473.20C255.37,473.20 255.83,478.05 256.30,478.80C256.77,479.55 257.23,480.20 257.70,480.20C258.40,480.20 259.10,463.40 259.80,463.40C260.27,463.40 260.73,471.73 261.20,474.60C261.67,477.47 262.13,481.60 262.60,481.60C263.30,481.60 264.00,474.60 264.70,474.60C265.17,474.60 265.63,477.68 266.10,478.80C266.57,479.92 267.03,481.60 267.50,481.60C268.10,481.60 268.70,463.40 269.30,463.40C269.87,463.40 270.43,478.80 271.00,478.80C271.47,478.80 271.93,476.00 272.40,476.00C272.87,476.00 273.33,481.60 273.80,481.60C274.50,481.60 275.20,470.40 275.90,470.40C276.37,470.40 276.83,481.35 277.30,481.60C278.23,482.11 279.17,482.30 280.10,482.30C280.70,482.30 281.30,475.07 281.90,470.40C282.23,467.81 282.57,461.30 282.90,461.30C283.23,461.30 283.57,467.20 283.90,470.40C284.27,473.92 284.63,481.60 285.00,481.60C285.93,481.60 286.87,479.73 287.80,478.80C288.73,477.87 289.67,477.33 290.60,476.00C291.30,475.00 292.00,471.10 292.70,471.10C293.30,471.10 293.90,476.93 294.50,478.80C295.07,480.57 295.63,482.50 296.20,483.00C296.83,483.56 297.47,484.00 298.10,484.00C299.13,484.00 300.17,482.40 301.20,482.40C302.20,482.40 303.20,484.00 304.20,484.00C305.77,484.00 307.33,484.00 308.90,484.00C309.93,484.00 310.97,483.28 312.00,482.40C312.50,481.98 313.00,479.80 313.50,479.80C314.00,479.80 314.50,483.20 315.00,483.20C316.57,483.20 318.13,482.65 319.70,482.40C321.23,482.15 322.77,481.70 324.30,481.70C324.80,481.70 325.30,484.00 325.80,484.00C328.37,484.00 330.93,484.00 333.50,484.00C335.57,484.00 337.63,483.76 339.70,483.20C340.47,482.99 341.23,480.10 342.00,480.10C342.50,480.10 343.00,481.07 343.50,481.70C344.00,482.33 344.50,483.23 345.00,484.00" fill="none" stroke="#111" stroke-width="1.1" stroke-linejoin="round"/>
<rect x="70.5" y="284.5" width="275" height="205.5" fill="none" stroke="#333" stroke-width="1"/>
<line x1="70.5" y1="490" x2="70.5" y2="487" stroke="#333" stroke-width="1"/>
<text x="70.5" y="505.8" font-size="14" text-anchor="middle" fill="#111">5</text>
<line x1="116.3" y1="490" x2="116.3" y2="487" stroke="#333" stroke-width="1"/>
<text x="116.3" y="505.8" font-size="14" text-anchor="middle" fill="#111">10</text>
<line x1="162.2" y1="490" x2="162.2" y2="487" stroke="#333" stroke-width="1"/>
<text x="162.2" y="505.8" font-size="14" text-anchor="middle" fill="#111">15</text>
<line x1="208.0" y1="490" x2="208.0" y2="487" stroke="#333" stroke-width="1"/>
<text x="208.0" y="505.8" font-size="14" text-anchor="middle" fill="#111">20</text>
<line x1="253.8" y1="490" x2="253.8" y2="487" stroke="#333" stroke-width="1"/>
<text x="253.8" y="505.8" font-size="14" text-anchor="middle" fill="#111">25</text>
<line x1="299.7" y1="490" x2="299.7" y2="487" stroke="#333" stroke-width="1"/>
<text x="299.7" y="505.8" font-size="14" text-anchor="middle" fill="#111">30</text>
<line x1="345.5" y1="490" x2="345.5" y2="487" stroke="#333" stroke-width="1"/>
<text x="345.5" y="505.8" font-size="14" text-anchor="middle" fill="#111">35</text>
<text x="171.8" y="532" font-size="19" fill="#111">2Theta(°)</text>
<text x="2.7" y="301" font-size="14" fill="#111">B</text>
<text x="73" y="311.7" font-size="13.8" fill="#2f6fbf">zein</text>
<text x="72.3" y="357.4" font-size="14" fill="#e8262b">MAR</text>
<text x="72.3" y="390.6" font-size="14.3" fill="#4aaa48">ZMNPs</text>
<text x="72.3" y="420" font-size="14.2" fill="#8f3fa0">CZMNPs</text>
<text x="72.3" y="445.5" font-size="14.2" fill="#ff7f1a">ZMNPs+CUR</text>
<text x="72.8" y="480.8" font-size="14" fill="#111">CUR</text>
<line x1="158.1" y1="562" x2="158.1" y2="780" stroke="#d6ad52" stroke-width="1.4" stroke-dasharray="4.6 2.1 1.1 2.1"/>
<polyline points="76.5,779.9 86.7,714.4 96.9,696.9 117.3,683.1 137.7,671.7 158.1,660.4 178.5,633.1 198.9,620.4 219.3,609.3 239.7,599.4 260.1,595.9 280.5,593.1 300.9,588.3 321.3,583.9" fill="none" stroke="#333" stroke-width="1.4" stroke-dasharray="2.3 4.3"/>
<polyline points="76.5,779.9 86.7,764.4 96.9,760.7 117.3,745.6 137.7,730.3 158.1,719.8 178.5,695.6 198.9,685.5 219.3,677.0 239.7,669.6 260.1,663.9 280.5,658.2 300.9,654.0 321.3,649.9" fill="none" stroke="#f0353a" stroke-width="1.4" stroke-dasharray="2.3 4.3"/>
<polyline points="76.5,779.9 86.7,769.0 96.9,758.7 117.3,737.9 137.7,716.1 158.1,706.5 178.5,682.7 198.9,671.3 219.3,661.7 239.7,654.3 260.1,648.4 280.5,643.8 300.9,638.7 321.3,634.4" fill="none" stroke="#1f6fe0" stroke-width="1.4" stroke-dasharray="2.3 4.3"/>
<path d="M86.7,702.3V726.4M84.1,702.3h5.2M84.1,726.4h5.2" stroke="#404040" stroke-width="1.2" fill="none"/>
<path d="M178.5,629.1V637.0M175.9,629.1h5.2M175.9,637.0h5.2" stroke="#404040" stroke-width="1.2" fill="none"/>
<path d="M300.9,582.6V594.0M298.3,582.6h5.2M298.3,594.0h5.2" stroke="#404040" stroke-width="1.2" fill="none"/>
<path d="M321.3,577.8V590.0M318.7,577.8h5.2M318.7,590.0h5.2" stroke="#404040" stroke-width="1.2" fill="none"/>
<path d="M96.9,759.4V762.0M94.3,759.4h5.2M94.3,762.0h5.2" stroke="#f0353a" stroke-width="1.2" fill="none"/>
<path d="M117.3,742.8V748.4M114.7,742.8h5.2M114.7,748.4h5.2" stroke="#f0353a" stroke-width="1.2" fill="none"/>
<path d="M137.7,728.6V732.0M135.1,728.6h5.2M135.1,732.0h5.2" stroke="#f0353a" stroke-width="1.2" fill="none"/>
<path d="M158.1,713.3V726.4M155.5,713.3h5.2M155.5,726.4h5.2" stroke="#f0353a" stroke-width="1.2" fill="none"/>
<path d="M178.5,692.7V698.4M175.9,692.7h5.2M175.9,698.4h5.2" stroke="#f0353a" stroke-width="1.2" fill="none"/>
<path d="M198.9,681.8V689.2M196.3,681.8h5.2M196.3,689.2h5.2" stroke="#f0353a" stroke-width="1.2" fill="none"/>
<path d="M219.3,672.8V681.1M216.7,672.8h5.2M216.7,681.1h5.2" stroke="#f0353a" stroke-width="1.2" fill="none"/>
<path d="M239.7,661.9V677.2M237.1,661.9h5.2M237.1,677.2h5.2" stroke="#f0353a" stroke-width="1.2" fill="none"/>
<path d="M260.1,654.7V673.1M257.5,654.7h5.2M257.5,673.1h5.2" stroke="#f0353a" stroke-width="1.2" fill="none"/>
<path d="M280.5,649.0V667.4M277.9,649.0h5.2M277.9,667.4h5.2" stroke="#f0353a" stroke-width="1.2" fill="none"/>
<path d="M300.9,643.1V665.0M298.3,643.1h5.2M298.3,665.0h5.2" stroke="#f0353a" stroke-width="1.2" fill="none"/>
<path d="M321.3,639.0V660.8M318.7,639.0h5.2M318.7,660.8h5.2" stroke="#f0353a" stroke-width="1.2" fill="none"/>
<path d="M117.3,733.4V742.5M114.7,733.4h5.2M114.7,742.5h5.2" stroke="#1f6fe0" stroke-width="1.2" fill="none"/>
<path d="M178.5,677.9V687.5M175.9,677.9h5.2M175.9,687.5h5.2" stroke="#1f6fe0" stroke-width="1.2" fill="none"/>
<path d="M198.9,666.5V676.1M196.3,666.5h5.2M196.3,676.1h5.2" stroke="#1f6fe0" stroke-width="1.2" fill="none"/>
<path d="M219.3,656.9V666.5M216.7,656.9h5.2M216.7,666.5h5.2" stroke="#1f6fe0" stroke-width="1.2" fill="none"/>
<path d="M239.7,649.2V659.3M237.1,649.2h5.2M237.1,659.3h5.2" stroke="#1f6fe0" stroke-width="1.2" fill="none"/>
<path d="M260.1,643.3V653.4M257.5,643.3h5.2M257.5,653.4h5.2" stroke="#1f6fe0" stroke-width="1.2" fill="none"/>
<path d="M280.5,638.7V648.8M277.9,638.7h5.2M277.9,648.8h5.2" stroke="#1f6fe0" stroke-width="1.2" fill="none"/>
<path d="M300.9,633.3V644.2M298.3,633.3h5.2M298.3,644.2h5.2" stroke="#1f6fe0" stroke-width="1.2" fill="none"/>
<path d="M321.3,629.8V639.0M318.7,629.8h5.2M318.7,639.0h5.2" stroke="#1f6fe0" stroke-width="1.2" fill="none"/>
<rect x="83.8" y="711.5" width="5.8" height="5.8" fill="#404040"/>
<rect x="94.0" y="694.0" width="5.8" height="5.8" fill="#404040"/>
<rect x="114.4" y="680.2" width="5.8" height="5.8" fill="#404040"/>
<rect x="134.8" y="668.8" width="5.8" height="5.8" fill="#404040"/>
<rect x="155.2" y="657.5" width="5.8" height="5.8" fill="#404040"/>
<rect x="175.6" y="630.2" width="5.8" height="5.8" fill="#404040"/>
<rect x="196.0" y="617.5" width="5.8" height="5.8" fill="#404040"/>
<rect x="216.4" y="606.4" width="5.8" height="5.8" fill="#404040"/>
<rect x="236.8" y="596.5" width="5.8" height="5.8" fill="#404040"/>
<rect x="257.2" y="593.0" width="5.8" height="5.8" fill="#404040"/>
<rect x="277.6" y="590.2" width="5.8" height="5.8" fill="#404040"/>
<rect x="298.0" y="585.4" width="5.8" height="5.8" fill="#404040"/>
<rect x="318.4" y="581.0" width="5.8" height="5.8" fill="#404040"/>
<polygon points="86.7,760.5 83.2,766.8 90.2,766.8" fill="#f0353a"/>
<polygon points="96.9,756.8 93.4,763.1 100.4,763.1" fill="#f0353a"/>
<polygon points="117.3,741.7 113.8,748.0 120.8,748.0" fill="#f0353a"/>
<polygon points="137.7,726.4 134.2,732.7 141.2,732.7" fill="#f0353a"/>
<polygon points="158.1,715.9 154.6,722.2 161.6,722.2" fill="#f0353a"/>
<polygon points="178.5,691.7 175.0,698.0 182.0,698.0" fill="#f0353a"/>
<polygon points="198.9,681.6 195.4,687.9 202.4,687.9" fill="#f0353a"/>
<polygon points="219.3,673.1 215.8,679.4 222.8,679.4" fill="#f0353a"/>
<polygon points="239.7,665.7 236.2,672.0 243.2,672.0" fill="#f0353a"/>
<polygon points="260.1,660.0 256.6,666.3 263.6,666.3" fill="#f0353a"/>
<polygon points="280.5,654.3 277.0,660.6 284.0,660.6" fill="#f0353a"/>
<polygon points="300.9,650.1 297.4,656.4 304.4,656.4" fill="#f0353a"/>
<polygon points="321.3,646.0 317.8,652.3 324.8,652.3" fill="#f0353a"/>
<circle cx="86.7" cy="769.0" r="3.1" fill="#1f6fe0"/>
<circle cx="96.9" cy="758.7" r="3.1" fill="#1f6fe0"/>
<circle cx="117.3" cy="737.9" r="3.1" fill="#1f6fe0"/>
<circle cx="137.7" cy="716.1" r="3.1" fill="#1f6fe0"/>
<circle cx="158.1" cy="706.5" r="3.1" fill="#1f6fe0"/>
<circle cx="178.5" cy="682.7" r="3.1" fill="#1f6fe0"/>
<circle cx="198.9" cy="671.3" r="3.1" fill="#1f6fe0"/>
<circle cx="219.3" cy="661.7" r="3.1" fill="#1f6fe0"/>
<circle cx="239.7" cy="654.3" r="3.1" fill="#1f6fe0"/>
<circle cx="260.1" cy="648.4" r="3.1" fill="#1f6fe0"/>
<circle cx="280.5" cy="643.8" r="3.1" fill="#1f6fe0"/>
<circle cx="300.9" cy="638.7" r="3.1" fill="#1f6fe0"/>
<circle cx="321.3" cy="634.4" r="3.1" fill="#1f6fe0"/>
<rect x="76.5" y="561.5" width="272" height="218.5" fill="none" stroke="#333" stroke-width="1"/>
<line x1="76.5" y1="779.9" x2="82.0" y2="779.9" stroke="#333" stroke-width="1"/>
<text x="70.5" y="785.2" font-size="15.5" text-anchor="end" fill="#111">0</text>
<line x1="76.5" y1="758.0" x2="79.5" y2="758.0" stroke="#333" stroke-width="1"/>
<line x1="76.5" y1="736.2" x2="82.0" y2="736.2" stroke="#333" stroke-width="1"/>
<text x="70.5" y="741.5" font-size="15.5" text-anchor="end" fill="#111">20</text>
<line x1="76.5" y1="714.4" x2="79.5" y2="714.4" stroke="#333" stroke-width="1"/>
<line x1="76.5" y1="692.5" x2="82.0" y2="692.5" stroke="#333" stroke-width="1"/>
<text x="70.5" y="697.8" font-size="15.5" text-anchor="end" fill="#111">40</text>
<line x1="76.5" y1="670.6" x2="79.5" y2="670.6" stroke="#333" stroke-width="1"/>
<line x1="76.5" y1="648.8" x2="82.0" y2="648.8" stroke="#333" stroke-width="1"/>
<text x="70.5" y="654.1" font-size="15.5" text-anchor="end" fill="#111">60</text>
<line x1="76.5" y1="626.9" x2="79.5" y2="626.9" stroke="#333" stroke-width="1"/>
<line x1="76.5" y1="605.1" x2="82.0" y2="605.1" stroke="#333" stroke-width="1"/>
<text x="70.5" y="610.4" font-size="15.5" text-anchor="end" fill="#111">80</text>
<line x1="76.5" y1="583.2" x2="79.5" y2="583.2" stroke="#333" stroke-width="1"/>
<line x1="76.5" y1="561.4" x2="82.0" y2="561.4" stroke="#333" stroke-width="1"/>
<text x="70.5" y="566.7" font-size="15.5" text-anchor="end" fill="#111">100</text>
<line x1="76.5" y1="780" x2="76.5" y2="774.5" stroke="#333" stroke-width="1"/>
<text x="76.5" y="798.8" font-size="15.5" text-anchor="middle" fill="#111">0</text>
<line x1="96.9" y1="780" x2="96.9" y2="777" stroke="#333" stroke-width="1"/>
<line x1="117.3" y1="780" x2="117.3" y2="774.5" stroke="#333" stroke-width="1"/>
<text x="117.3" y="798.8" font-size="15.5" text-anchor="middle" fill="#111">60</text>
<line x1="137.7" y1="780" x2="137.7" y2="777" stroke="#333" stroke-width="1"/>
<line x1="158.1" y1="780" x2="158.1" y2="774.5" stroke="#333" stroke-width="1"/>
<text x="158.1" y="798.8" font-size="15.5" text-anchor="middle" fill="#111">120</text>
<line x1="178.5" y1="780" x2="178.5" y2="777" stroke="#333" stroke-width="1"/>
<line x1="198.9" y1="780" x2="198.9" y2="774.5" stroke="#333" stroke-width="1"/>
<text x="198.9" y="798.8" font-size="15.5" text-anchor="middle" fill="#111">180</text>
<line x1="219.3" y1="780" x2="219.3" y2="777" stroke="#333" stroke-width="1"/>
<line x1="239.7" y1="780" x2="239.7" y2="774.5" stroke="#333" stroke-width="1"/>
<text x="239.7" y="798.8" font-size="15.5" text-anchor="middle" fill="#111">240</text>
<line x1="260.1" y1="780" x2="260.1" y2="777" stroke="#333" stroke-width="1"/>
<line x1="280.5" y1="780" x2="280.5" y2="774.5" stroke="#333" stroke-width="1"/>
<text x="280.5" y="798.8" font-size="15.5" text-anchor="middle" fill="#111">300</text>
<line x1="300.9" y1="780" x2="300.9" y2="777" stroke="#333" stroke-width="1"/>
<line x1="321.3" y1="780" x2="321.3" y2="774.5" stroke="#333" stroke-width="1"/>
<text x="321.3" y="798.8" font-size="15.5" text-anchor="middle" fill="#111">360</text>
<line x1="341.7" y1="780" x2="341.7" y2="777" stroke="#333" stroke-width="1"/>
<text x="164.3" y="830.6" font-size="21.2" fill="#111">Time (min)</text>
<text transform="translate(37.2,773.8) rotate(-90)" font-size="21.9" fill="#111">Cumulative release(%)</text>
<text x="1.7" y="568.6" font-size="16" fill="#111">C</text>
<text x="106.6" y="580.4" font-size="16" fill="#111">SGF</text>
<text x="193" y="581.2" font-size="15.5" fill="#111">SIF</text>
<path d="M231,727.6h2.5M239.3,727.6h2.5M252.5,727.6h3M261.2,727.6h2.5" stroke="#333" stroke-width="1.4"/>
<rect x="247.7" y="724.7" width="5.8" height="5.8" fill="#404040"/>
<text x="273.3" y="733.0" font-size="16.4" fill="#111">CUR</text>
<path d="M231,743.6h2.5M239.3,743.6h2.5M252.5,743.6h3M261.2,743.6h2.5" stroke="#f0353a" stroke-width="1.4"/>
<polygon points="250.6,739.7 247.1,746.0 254.1,746.0" fill="#f0353a"/>
<text x="273.3" y="749.0" font-size="16.4" fill="#111">CZNPs</text>
<path d="M231,759.5h2.5M239.3,759.5h2.5M252.5,759.5h3M261.2,759.5h2.5" stroke="#1f6fe0" stroke-width="1.4"/>
<circle cx="250.6" cy="759.5" r="3" fill="#1f6fe0"/>
<text x="273.3" y="764.9" font-size="16.4" fill="#111">CZMNPs</text>
</svg>
</body></html>
